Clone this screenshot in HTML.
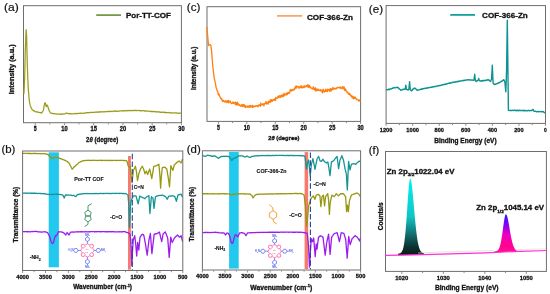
<!DOCTYPE html>
<html><head><meta charset="utf-8"><style>
html,body{margin:0;padding:0;background:#fff;}
svg{display:block;will-change:transform;}
text{font-family:"Liberation Sans", sans-serif;}
</style></head><body>
<svg width="550" height="294" viewBox="0 0 550 294">
<rect width="550" height="294" fill="#fff"/>
<rect x="23.50" y="5.70" width="157.90" height="117.00" fill="none" stroke="#6e6e6e" stroke-width="1.0"/><line x1="35.20" y1="123.20" x2="35.20" y2="125.20" stroke="#6e6e6e" stroke-width="0.8" /><line x1="64.44" y1="123.20" x2="64.44" y2="125.20" stroke="#6e6e6e" stroke-width="0.8" /><line x1="93.68" y1="123.20" x2="93.68" y2="125.20" stroke="#6e6e6e" stroke-width="0.8" /><line x1="122.92" y1="123.20" x2="122.92" y2="125.20" stroke="#6e6e6e" stroke-width="0.8" /><line x1="152.16" y1="123.20" x2="152.16" y2="125.20" stroke="#6e6e6e" stroke-width="0.8" /><line x1="181.40" y1="123.20" x2="181.40" y2="125.20" stroke="#6e6e6e" stroke-width="0.8" /><line x1="49.82" y1="123.20" x2="49.82" y2="124.40" stroke="#6e6e6e" stroke-width="0.8" /><line x1="79.06" y1="123.20" x2="79.06" y2="124.40" stroke="#6e6e6e" stroke-width="0.8" /><line x1="108.30" y1="123.20" x2="108.30" y2="124.40" stroke="#6e6e6e" stroke-width="0.8" /><line x1="137.54" y1="123.20" x2="137.54" y2="124.40" stroke="#6e6e6e" stroke-width="0.8" /><line x1="166.78" y1="123.20" x2="166.78" y2="124.40" stroke="#6e6e6e" stroke-width="0.8" /><text x="33.75" y="131.30" font-size="6.5" font-weight="bold" fill="#111" stroke="#111" stroke-width="0.3" textLength="2.91" lengthAdjust="spacingAndGlyphs" >5</text><text x="61.26" y="131.30" font-size="6.5" font-weight="bold" fill="#111" stroke="#111" stroke-width="0.3" textLength="6.36" lengthAdjust="spacingAndGlyphs" >10</text><text x="90.50" y="131.30" font-size="6.5" font-weight="bold" fill="#111" stroke="#111" stroke-width="0.3" textLength="6.36" lengthAdjust="spacingAndGlyphs" >15</text><text x="119.74" y="131.30" font-size="6.5" font-weight="bold" fill="#111" stroke="#111" stroke-width="0.3" textLength="6.36" lengthAdjust="spacingAndGlyphs" >20</text><text x="148.98" y="131.30" font-size="6.5" font-weight="bold" fill="#111" stroke="#111" stroke-width="0.3" textLength="6.36" lengthAdjust="spacingAndGlyphs" >25</text><text x="178.22" y="131.30" font-size="6.5" font-weight="bold" fill="#111" stroke="#111" stroke-width="0.3" textLength="6.36" lengthAdjust="spacingAndGlyphs" >30</text><polyline points="23.90,94.00 24.40,83.82 24.60,80.00 24.90,67.32 25.30,50.00 25.40,47.58 25.90,34.58 26.10,29.60 26.40,33.44 26.60,36.00 26.90,48.40 27.30,65.00 27.40,67.63 27.90,80.48 28.20,88.00 28.40,90.20 28.90,96.16 29.20,100.00 29.40,101.25 29.90,103.75 30.20,105.40 30.40,106.05 30.90,106.97 31.20,108.00 31.40,108.27 31.90,109.16 32.20,109.50 32.40,109.53 32.90,110.31 33.40,110.70 33.90,110.68 34.00,111.00 34.40,110.92 34.90,111.38 35.40,111.78 35.90,111.70 36.00,111.80 36.40,111.76 36.90,111.99 37.40,111.91 37.90,112.14 38.00,112.30 38.40,112.34 38.90,112.47 39.40,112.43 39.90,112.52 40.40,112.61 40.90,112.83 41.40,112.84 41.70,113.00 41.90,112.43 42.40,112.00 42.90,111.03 43.40,110.24 43.50,110.00 43.90,107.24 44.40,104.40 44.50,103.50 44.90,103.04 45.00,102.70 45.40,103.38 45.60,104.00 45.90,105.27 46.20,106.70 46.40,106.33 46.90,105.00 47.40,105.44 47.50,105.40 47.90,106.86 48.40,108.15 48.50,108.50 48.90,109.87 49.40,111.29 49.50,111.50 49.90,111.91 50.40,112.69 50.60,112.90 50.90,113.18 51.40,113.31 51.90,113.28 52.40,113.47 52.90,113.34 53.00,113.60 53.40,113.51 53.90,113.84 54.40,113.70 54.90,113.63 55.40,113.86 55.90,113.99 56.40,114.03 56.90,113.93 57.00,114.00 57.40,113.99 57.90,114.05 58.40,114.21 58.90,114.11 59.40,114.07 59.90,114.14 60.40,113.93 60.90,113.97 61.00,114.20 61.40,114.26 61.90,114.35 62.40,114.11 62.90,113.96 63.40,113.80 63.90,113.91 64.00,113.90 64.40,114.02 64.90,113.77 65.40,113.50 65.90,113.51 66.00,113.30 66.40,113.05 66.90,113.04 67.00,113.00 67.40,113.47 67.90,113.58 68.00,113.60 68.40,113.60 68.90,113.53 69.40,113.69 69.90,113.92 70.40,113.47 70.90,113.89 71.40,113.93 71.90,113.99 72.00,113.80 72.40,113.90 72.90,113.91 73.40,113.74 73.90,113.74 74.40,113.64 74.90,113.43 75.40,113.82 75.90,113.64 76.40,113.43 76.90,113.56 77.40,113.52 77.90,113.43 78.40,113.40 78.90,113.47 79.40,113.49 79.90,113.46 80.00,113.40 80.40,113.35 80.90,113.09 81.40,113.15 81.90,113.09 82.40,113.25 82.90,113.35 83.40,113.28 83.90,113.24 84.40,113.21 84.90,112.89 85.40,113.14 85.90,113.01 86.40,112.68 86.90,112.61 87.40,112.57 87.90,112.90 88.40,112.60 88.90,112.49 89.40,112.71 89.90,112.53 90.00,112.60 90.40,112.36 90.90,112.38 91.40,112.53 91.90,112.32 92.40,112.34 92.90,112.53 93.40,112.37 93.90,112.28 94.40,112.32 94.90,112.07 95.40,112.22 95.90,112.21 96.40,112.06 96.90,111.99 97.40,112.36 97.90,112.13 98.40,111.95 98.90,112.12 99.40,112.19 99.90,111.77 100.00,112.00 100.40,111.73 100.90,111.77 101.40,112.03 101.90,111.72 102.40,111.96 102.90,111.92 103.40,111.82 103.90,111.63 104.40,111.97 104.90,111.85 105.40,111.68 105.90,111.51 106.40,111.69 106.90,111.53 107.40,111.59 107.90,111.44 108.40,111.56 108.90,111.25 109.40,111.34 109.90,111.64 110.00,111.40 110.40,111.57 110.90,111.27 111.40,111.52 111.90,111.23 112.40,111.52 112.90,111.40 113.40,111.22 113.90,111.11 114.40,110.97 114.90,111.39 115.40,110.94 115.90,111.31 116.40,111.36 116.90,111.15 117.40,110.93 117.90,111.25 118.40,111.29 118.90,111.13 119.40,111.01 119.90,110.93 120.40,110.89 120.90,110.80 121.40,111.01 121.90,110.87 122.00,110.90 122.40,110.73 122.90,110.66 123.40,110.91 123.90,110.70 124.40,110.78 124.90,110.67 125.40,110.92 125.90,110.90 126.40,110.44 126.90,110.51 127.40,110.54 127.90,110.85 128.40,110.72 128.90,110.47 129.40,110.39 129.90,110.59 130.00,110.50 130.40,110.67 130.90,110.72 131.40,110.42 131.90,110.69 132.40,110.59 132.90,110.49 133.40,110.74 133.90,110.37 134.40,110.61 134.90,110.29 135.40,110.33 135.90,110.71 136.40,110.36 136.90,110.63 137.40,110.55 137.90,110.67 138.00,110.50 138.40,110.46 138.90,110.47 139.40,110.48 139.90,110.79 140.40,110.69 140.90,110.89 141.40,110.89 141.90,110.54 142.40,110.78 142.90,110.58 143.40,110.58 143.90,110.62 144.40,111.05 144.90,111.04 145.00,110.90 145.40,111.10 145.90,110.89 146.40,111.07 146.90,111.19 147.40,111.03 147.90,111.17 148.40,111.03 148.90,111.00 149.40,111.14 149.90,111.49 150.40,111.36 150.90,111.58 151.40,111.39 151.90,111.34 152.40,111.64 152.90,111.70 153.40,111.33 153.90,111.70 154.40,111.45 154.90,111.50 155.00,111.70 155.40,111.92 155.90,111.54 156.40,111.68 156.90,112.10 157.40,111.85 157.90,111.74 158.40,111.81 158.90,111.88 159.40,112.17 159.90,111.89 160.40,112.34 160.90,112.11 161.40,112.45 161.90,112.46 162.40,112.19 162.90,112.21 163.40,112.36 163.90,112.21 164.40,112.53 164.90,112.26 165.00,112.50 165.40,112.28 165.90,112.79 166.40,112.47 166.90,112.64 167.40,112.59 167.90,112.55 168.40,112.45 168.90,112.90 169.40,112.95 169.90,112.98 170.40,112.58 170.90,112.65 171.40,112.88 171.90,113.08 172.40,112.89 172.90,112.99 173.40,113.00 173.90,112.82 174.40,112.99 174.90,112.90 175.00,113.00 175.40,112.89 175.90,112.84 176.40,112.96 176.90,113.34 177.40,113.09 177.90,113.22 178.40,113.24 178.90,113.42 179.40,113.17 179.90,113.15 180.40,113.18 180.90,113.20 181.00,113.30" fill="none" stroke="#9c9c1c" stroke-width="1.25" stroke-linejoin="round" /><line x1="96.20" y1="15.10" x2="121.00" y2="15.10" stroke="#6f9440" stroke-width="1.7" /><text x="125.90" y="17.60" font-size="7.8" font-weight="bold" fill="#111" stroke="#111" stroke-width="0.3" textLength="45.00" lengthAdjust="spacingAndGlyphs" >Por-TT-COF</text><text x="0" y="0" font-size="6.9" font-weight="bold" fill="#111" stroke="#111" stroke-width="0.3" textLength="49.99" lengthAdjust="spacingAndGlyphs" transform="translate(14.00 94.20) rotate(-90)" >Intensity (a.u.)</text><text x="86.00" y="141.70" font-size="6.3" font-weight="bold" fill="#111" stroke="#111" stroke-width="0.3" textLength="32.29" lengthAdjust="spacingAndGlyphs"><tspan font-size="6.30" dy="0" >2</tspan><tspan font-size="6.30" dy="0" font-style="italic">θ</tspan><tspan font-size="6.30" dy="0" > (degree)</tspan></text><text x="4.00" y="11.40" font-size="11.4" font-weight="normal" fill="#111" stroke="#111" stroke-width="0.2" textLength="14.73" lengthAdjust="spacingAndGlyphs" >(a)</text><rect x="207.00" y="6.70" width="153.60" height="114.70" fill="none" stroke="#6e6e6e" stroke-width="1.0"/><line x1="218.38" y1="121.90" x2="218.38" y2="123.90" stroke="#6e6e6e" stroke-width="0.8" /><line x1="246.82" y1="121.90" x2="246.82" y2="123.90" stroke="#6e6e6e" stroke-width="0.8" /><line x1="275.27" y1="121.90" x2="275.27" y2="123.90" stroke="#6e6e6e" stroke-width="0.8" /><line x1="303.71" y1="121.90" x2="303.71" y2="123.90" stroke="#6e6e6e" stroke-width="0.8" /><line x1="332.16" y1="121.90" x2="332.16" y2="123.90" stroke="#6e6e6e" stroke-width="0.8" /><line x1="360.60" y1="121.90" x2="360.60" y2="123.90" stroke="#6e6e6e" stroke-width="0.8" /><line x1="232.60" y1="121.90" x2="232.60" y2="123.10" stroke="#6e6e6e" stroke-width="0.8" /><line x1="261.04" y1="121.90" x2="261.04" y2="123.10" stroke="#6e6e6e" stroke-width="0.8" /><line x1="289.49" y1="121.90" x2="289.49" y2="123.10" stroke="#6e6e6e" stroke-width="0.8" /><line x1="317.93" y1="121.90" x2="317.93" y2="123.10" stroke="#6e6e6e" stroke-width="0.8" /><line x1="346.38" y1="121.90" x2="346.38" y2="123.10" stroke="#6e6e6e" stroke-width="0.8" /><text x="216.95" y="129.70" font-size="6.4" font-weight="bold" fill="#111" stroke="#111" stroke-width="0.3" textLength="2.86" lengthAdjust="spacingAndGlyphs" >5</text><text x="243.70" y="129.70" font-size="6.4" font-weight="bold" fill="#111" stroke="#111" stroke-width="0.3" textLength="6.26" lengthAdjust="spacingAndGlyphs" >10</text><text x="272.14" y="129.70" font-size="6.4" font-weight="bold" fill="#111" stroke="#111" stroke-width="0.3" textLength="6.26" lengthAdjust="spacingAndGlyphs" >15</text><text x="300.59" y="129.70" font-size="6.4" font-weight="bold" fill="#111" stroke="#111" stroke-width="0.3" textLength="6.26" lengthAdjust="spacingAndGlyphs" >20</text><text x="329.03" y="129.70" font-size="6.4" font-weight="bold" fill="#111" stroke="#111" stroke-width="0.3" textLength="6.26" lengthAdjust="spacingAndGlyphs" >25</text><text x="357.48" y="129.70" font-size="6.4" font-weight="bold" fill="#111" stroke="#111" stroke-width="0.3" textLength="6.26" lengthAdjust="spacingAndGlyphs" >30</text><polyline points="206.90,27.10 207.25,30.99 207.60,34.89 207.70,36.00 207.95,38.97 208.30,43.13 208.50,45.50 208.65,45.38 209.00,45.09 209.35,44.80 209.60,44.60 209.70,44.63 210.05,44.72 210.40,44.82 210.70,44.90 210.75,45.22 211.10,47.43 211.45,49.65 211.60,50.60 211.80,53.45 212.15,58.44 212.40,62.00 212.50,63.00 212.85,66.50 213.20,70.00 213.55,72.80 213.90,75.60 214.20,77.81 214.25,78.62 214.60,79.68 214.95,81.24 215.30,82.40 215.65,84.56 216.00,87.17 216.10,87.12 216.35,88.41 216.70,89.00 217.05,90.28 217.40,91.29 217.75,91.07 218.10,94.14 218.40,94.88 218.45,94.95 218.80,93.85 219.15,94.35 219.50,95.53 219.85,96.38 220.20,97.50 220.55,97.77 220.90,98.74 221.00,98.02 221.25,98.98 221.60,99.40 221.95,98.95 222.30,101.09 222.65,100.57 223.00,101.40 223.35,100.38 223.70,100.65 223.80,101.04 224.05,101.25 224.40,101.85 224.75,101.61 225.10,101.13 225.45,100.80 225.80,101.17 226.15,102.52 226.50,101.05 226.85,101.88 227.20,102.07 227.55,100.67 227.90,101.87 228.25,102.86 228.60,100.42 228.95,101.73 229.30,101.94 229.65,101.45 229.90,102.47 230.00,102.08 230.35,101.13 230.70,102.94 231.05,102.92 231.40,103.22 231.75,103.69 232.10,102.98 232.45,102.89 232.80,101.92 233.15,103.46 233.50,102.63 233.85,102.85 234.20,102.34 234.55,102.65 234.90,103.08 235.25,104.54 235.60,102.15 235.95,102.67 236.30,104.04 236.65,105.04 236.80,104.43 237.00,102.63 237.35,102.27 237.70,104.53 238.05,103.80 238.40,103.62 238.75,105.29 239.10,105.48 239.45,104.88 239.80,105.04 240.15,105.28 240.50,106.25 240.85,105.62 241.20,105.65 241.55,105.77 241.90,104.28 242.25,106.52 242.60,106.37 242.95,106.15 243.30,104.38 243.65,105.48 244.00,106.69 244.35,104.80 244.70,106.12 245.05,107.12 245.20,105.42 245.40,107.61 245.75,106.81 246.10,106.29 246.45,106.64 246.80,106.89 247.15,106.49 247.50,107.26 247.85,105.90 248.20,106.09 248.55,107.18 248.90,106.42 249.25,105.74 249.60,107.11 249.95,107.50 250.30,106.07 250.65,105.37 251.00,106.30 251.35,106.29 251.70,106.18 252.05,107.45 252.40,105.63 252.75,107.35 252.80,105.45 253.10,105.75 253.45,106.75 253.80,107.05 254.15,106.78 254.50,106.33 254.85,106.11 255.20,106.05 255.55,106.30 255.90,105.66 256.25,105.94 256.60,106.09 256.95,105.59 257.30,106.10 257.65,105.88 258.00,106.89 258.35,105.56 258.70,104.93 259.05,104.90 259.40,105.10 259.75,105.74 260.10,104.73 260.45,105.20 260.50,106.28 260.80,102.90 261.15,103.89 261.50,104.82 261.85,104.84 262.20,104.63 262.55,104.04 262.90,104.76 263.25,104.39 263.60,103.69 263.95,105.81 264.30,104.17 264.65,103.39 265.00,103.64 265.35,103.45 265.70,103.48 266.05,101.39 266.40,102.98 266.75,104.01 267.10,102.29 267.45,103.02 267.80,103.69 268.10,103.54 268.15,103.99 268.50,101.38 268.85,102.18 269.20,101.98 269.55,102.49 269.90,102.63 270.25,99.59 270.60,102.20 270.95,100.09 271.30,101.48 271.65,99.63 272.00,100.67 272.35,101.22 272.70,100.00 273.05,100.05 273.40,100.29 273.75,99.59 274.10,99.20 274.45,100.21 274.80,99.63 275.15,98.41 275.50,100.48 275.70,97.44 275.85,98.93 276.20,97.90 276.55,98.06 276.90,98.35 277.25,97.84 277.60,98.01 277.95,96.25 278.30,96.12 278.65,97.57 279.00,96.25 279.35,96.06 279.70,95.59 280.05,97.50 280.40,96.97 280.75,97.37 281.10,95.42 281.45,95.99 281.80,94.99 282.15,96.28 282.50,96.75 282.85,94.75 283.20,96.45 283.40,95.94 283.55,94.99 283.90,93.48 284.25,95.84 284.60,94.54 284.95,93.99 285.30,94.57 285.65,94.40 286.00,95.04 286.35,92.98 286.70,94.43 287.05,94.52 287.40,94.32 287.75,92.93 288.10,92.33 288.45,93.48 288.80,92.63 289.15,92.47 289.50,93.27 289.85,91.65 290.20,89.78 290.55,90.86 290.90,89.41 291.10,91.21 291.25,90.74 291.60,89.83 291.95,90.06 292.30,90.48 292.65,89.69 293.00,90.41 293.35,89.15 293.70,89.76 294.05,89.88 294.40,89.75 294.75,87.82 295.10,88.77 295.45,86.48 295.80,86.86 296.15,85.98 296.50,88.04 296.85,86.09 297.20,86.79 297.55,86.67 297.90,86.81 298.25,86.41 298.60,87.04 298.95,88.23 299.30,86.94 299.65,87.32 300.00,87.69 300.35,86.81 300.70,86.03 301.05,86.57 301.40,87.81 301.75,85.79 302.10,86.59 302.45,87.81 302.80,87.67 303.15,87.10 303.30,87.70 303.50,87.20 303.85,86.14 304.20,85.81 304.55,86.46 304.90,87.58 305.25,86.42 305.60,86.12 305.95,86.18 306.30,85.56 306.65,86.58 307.00,85.73 307.35,86.84 307.70,84.76 307.90,86.75 308.05,86.07 308.40,85.21 308.75,87.33 309.10,86.70 309.45,85.35 309.80,86.49 310.15,87.48 310.50,87.03 310.85,88.08 311.20,88.17 311.55,88.23 311.90,88.10 312.25,88.97 312.60,88.58 312.95,88.54 313.30,86.76 313.65,89.11 314.00,89.54 314.35,88.46 314.70,88.44 315.05,90.37 315.40,87.71 315.60,89.45 315.75,90.96 316.10,88.54 316.45,89.84 316.80,90.83 317.15,89.42 317.50,90.02 317.85,90.37 318.20,89.10 318.55,89.81 318.90,90.19 319.25,90.68 319.60,90.13 319.95,90.10 320.30,89.57 320.65,90.16 321.00,91.19 321.35,90.69 321.70,90.07 322.05,90.17 322.40,92.89 322.75,91.84 323.10,91.55 323.20,89.16 323.45,91.52 323.80,91.34 324.15,92.18 324.50,91.17 324.85,90.73 325.20,91.10 325.55,89.18 325.90,91.35 326.25,90.75 326.60,89.91 326.95,91.36 327.30,91.66 327.65,89.18 328.00,89.67 328.35,90.32 328.70,90.17 329.05,89.66 329.40,89.16 329.75,91.41 330.10,90.53 330.45,88.79 330.80,88.61 330.90,90.88 331.15,90.28 331.50,90.81 331.85,89.96 332.20,88.60 332.55,89.36 332.90,87.45 333.25,88.42 333.60,88.85 333.95,89.19 334.30,88.16 334.65,88.52 335.00,88.86 335.35,88.71 335.70,88.82 336.05,88.40 336.40,87.91 336.75,88.65 337.10,88.01 337.45,87.26 337.80,87.31 338.15,87.69 338.50,87.52 338.85,87.75 339.20,87.66 339.55,87.82 339.90,87.62 340.25,86.81 340.60,88.10 340.95,88.60 341.30,88.17 341.65,87.73 342.00,88.24 342.35,87.21 342.70,86.54 343.05,88.04 343.10,87.30 343.40,88.81 343.75,87.73 344.10,86.87 344.45,88.35 344.80,90.61 345.15,89.43 345.50,88.99 345.85,89.73 346.20,90.99 346.55,91.33 346.90,91.45 347.25,92.79 347.60,92.56 347.95,92.37 348.30,93.19 348.65,94.35 349.00,94.19 349.35,94.59 349.70,93.37 350.05,94.42 350.40,95.44 350.70,94.98 350.75,96.03 351.10,95.89 351.45,96.34 351.80,95.71 352.15,98.00 352.50,97.23 352.85,96.36 353.20,96.80 353.55,98.89 353.90,96.90 354.25,98.03 354.60,98.33 354.95,97.81 355.30,97.14 355.65,98.37 356.00,98.72 356.35,99.51 356.70,99.46 356.90,99.02 357.05,99.75 357.40,99.78 357.75,99.79 358.10,99.93 358.45,99.97 358.80,100.92 359.15,99.88 359.50,100.46 359.85,101.19 360.00,100.20" fill="none" stroke="#ff8010" stroke-width="1.3" stroke-linejoin="round" /><line x1="277.00" y1="15.90" x2="302.30" y2="15.90" stroke="#ffa060" stroke-width="1.7" /><text x="307.00" y="19.50" font-size="7.8" font-weight="bold" fill="#111" stroke="#111" stroke-width="0.3" textLength="46.02" lengthAdjust="spacingAndGlyphs" >COF-366-Zn</text><text x="0" y="0" font-size="6.3" font-weight="bold" fill="#111" stroke="#111" stroke-width="0.3" textLength="43.49" lengthAdjust="spacingAndGlyphs" transform="translate(195.50 90.00) rotate(-90)" >Intensity (a.u.)</text><text x="268.20" y="140.40" font-size="6.0" font-weight="bold" fill="#111" stroke="#111" stroke-width="0.3" textLength="31.19" lengthAdjust="spacingAndGlyphs"><tspan font-size="6.00" dy="0" >2</tspan><tspan font-size="6.00" dy="0" font-style="italic">θ</tspan><tspan font-size="6.00" dy="0" > (degree)</tspan></text><text x="186.80" y="11.20" font-size="11.4" font-weight="normal" fill="#111" stroke="#111" stroke-width="0.2" textLength="13.61" lengthAdjust="spacingAndGlyphs" >(c)</text><rect x="386.10" y="5.60" width="159.40" height="117.80" fill="none" stroke="#6e6e6e" stroke-width="1.0"/><line x1="545.50" y1="123.90" x2="545.50" y2="125.90" stroke="#6e6e6e" stroke-width="0.8" /><line x1="518.93" y1="123.90" x2="518.93" y2="125.90" stroke="#6e6e6e" stroke-width="0.8" /><line x1="492.37" y1="123.90" x2="492.37" y2="125.90" stroke="#6e6e6e" stroke-width="0.8" /><line x1="465.80" y1="123.90" x2="465.80" y2="125.90" stroke="#6e6e6e" stroke-width="0.8" /><line x1="439.23" y1="123.90" x2="439.23" y2="125.90" stroke="#6e6e6e" stroke-width="0.8" /><line x1="412.67" y1="123.90" x2="412.67" y2="125.90" stroke="#6e6e6e" stroke-width="0.8" /><line x1="386.10" y1="123.90" x2="386.10" y2="125.90" stroke="#6e6e6e" stroke-width="0.8" /><line x1="532.22" y1="123.90" x2="532.22" y2="125.10" stroke="#6e6e6e" stroke-width="0.8" /><line x1="505.65" y1="123.90" x2="505.65" y2="125.10" stroke="#6e6e6e" stroke-width="0.8" /><line x1="479.08" y1="123.90" x2="479.08" y2="125.10" stroke="#6e6e6e" stroke-width="0.8" /><line x1="452.52" y1="123.90" x2="452.52" y2="125.10" stroke="#6e6e6e" stroke-width="0.8" /><line x1="425.95" y1="123.90" x2="425.95" y2="125.10" stroke="#6e6e6e" stroke-width="0.8" /><line x1="399.38" y1="123.90" x2="399.38" y2="125.10" stroke="#6e6e6e" stroke-width="0.8" /><text x="544.12" y="131.90" font-size="6.0" font-weight="bold" fill="#111" stroke="#111" stroke-width="0.3" textLength="2.76" lengthAdjust="spacingAndGlyphs" >0</text><text x="514.26" y="131.90" font-size="6.0" font-weight="bold" fill="#111" stroke="#111" stroke-width="0.3" textLength="9.34" lengthAdjust="spacingAndGlyphs" >200</text><text x="487.69" y="131.90" font-size="6.0" font-weight="bold" fill="#111" stroke="#111" stroke-width="0.3" textLength="9.34" lengthAdjust="spacingAndGlyphs" >400</text><text x="461.12" y="131.90" font-size="6.0" font-weight="bold" fill="#111" stroke="#111" stroke-width="0.3" textLength="9.34" lengthAdjust="spacingAndGlyphs" >600</text><text x="434.56" y="131.90" font-size="6.0" font-weight="bold" fill="#111" stroke="#111" stroke-width="0.3" textLength="9.34" lengthAdjust="spacingAndGlyphs" >800</text><text x="406.34" y="131.90" font-size="6.0" font-weight="bold" fill="#111" stroke="#111" stroke-width="0.3" textLength="12.65" lengthAdjust="spacingAndGlyphs" >1000</text><text x="379.78" y="131.90" font-size="6.0" font-weight="bold" fill="#111" stroke="#111" stroke-width="0.3" textLength="12.65" lengthAdjust="spacingAndGlyphs" >1200</text><polyline points="386.30,90.00 386.60,89.80 386.90,89.89 387.20,89.73 387.50,89.78 387.80,89.72 388.10,89.38 388.40,89.28 388.70,89.63 389.00,89.27 389.30,89.19 389.40,89.30 389.60,89.48 389.90,89.11 390.20,89.20 390.50,88.91 390.80,88.89 391.10,88.54 391.40,88.68 391.70,88.70 392.00,88.42 392.30,88.43 392.60,88.29 392.90,87.89 393.20,88.13 393.50,87.90 393.80,87.89 394.10,87.70 394.40,87.51 394.70,87.88 395.00,87.63 395.30,87.70 395.60,87.73 395.90,87.60 396.20,87.65 396.50,87.34 396.80,87.49 397.10,87.26 397.40,87.45 397.60,87.20 397.70,87.49 398.00,87.40 398.30,87.72 398.60,88.06 398.90,88.73 399.00,88.60 399.20,88.73 399.50,89.06 399.80,89.14 400.10,89.48 400.40,89.66 400.70,89.89 401.00,90.20 401.30,90.11 401.60,89.98 401.90,90.02 402.20,89.78 402.50,89.77 402.80,89.61 403.10,89.30 403.40,89.50 403.70,89.30 404.00,89.00 404.30,89.31 404.60,89.32 404.90,89.25 405.20,89.00 405.50,87.13 405.80,85.20 406.10,87.06 406.40,88.57 406.50,89.30 406.70,89.57 407.00,89.61 407.30,89.62 407.60,89.67 407.80,90.00 407.90,90.09 408.20,89.88 408.50,89.16 408.80,89.24 408.90,89.00 409.10,86.90 409.40,83.68 409.60,81.80 409.70,82.87 410.00,86.62 410.30,90.00 410.60,90.32 410.90,90.03 411.20,90.45 411.50,90.30 411.80,90.77 411.90,90.70 412.10,90.32 412.40,90.14 412.70,89.74 413.00,89.05 413.30,88.60 413.60,88.80 413.90,88.41 414.20,88.25 414.50,88.47 414.80,88.14 415.10,88.18 415.30,88.30 415.40,88.37 415.70,88.84 416.00,88.97 416.30,89.50 416.60,89.46 416.90,90.07 417.20,89.98 417.40,90.20 417.50,90.40 417.80,90.29 418.10,89.95 418.40,89.90 418.70,89.85 419.00,89.83 419.30,89.72 419.60,89.62 419.90,89.57 420.20,89.65 420.50,89.35 420.80,89.23 421.10,89.29 421.40,88.96 421.70,88.91 422.00,89.17 422.10,88.90 422.30,88.88 422.60,88.84 422.90,88.51 423.20,88.66 423.50,88.69 423.80,88.36 424.10,88.60 424.40,88.56 424.70,88.22 425.00,88.45 425.30,88.32 425.60,88.37 425.90,88.15 426.20,88.28 426.50,88.24 426.80,87.83 427.10,87.79 427.40,88.05 427.70,88.14 428.00,87.73 428.30,87.78 428.60,87.80 428.90,87.61 429.20,87.57 429.50,87.50 429.80,87.47 430.10,87.53 430.40,87.33 430.70,87.32 431.00,87.46 431.30,87.03 431.60,87.25 431.70,87.20 431.90,87.28 432.20,87.00 432.50,86.89 432.80,87.12 433.10,86.77 433.40,86.69 433.70,86.75 434.00,86.81 434.30,86.45 434.60,86.50 434.90,86.44 435.20,86.63 435.50,86.37 435.80,86.51 436.10,86.11 436.40,86.13 436.70,86.22 437.00,86.28 437.30,86.00 437.60,85.82 437.90,85.71 438.20,85.85 438.50,85.61 438.80,85.86 439.10,85.81 439.40,85.42 439.70,85.41 440.00,85.61 440.30,85.46 440.60,85.48 440.90,85.19 441.20,85.20 441.50,84.94 441.80,84.95 442.10,85.12 442.40,84.79 442.70,84.75 443.00,84.71 443.30,84.64 443.60,84.56 443.90,84.74 444.20,84.28 444.50,84.13 444.80,84.53 445.10,84.42 445.40,84.40 445.70,84.05 446.00,84.24 446.30,84.15 446.60,83.72 446.90,83.91 447.20,83.88 447.50,83.72 447.80,83.57 448.10,83.39 448.40,83.34 448.70,83.21 449.00,83.05 449.30,83.24 449.60,83.01 449.90,83.20 450.20,82.74 450.50,83.10 450.80,82.92 451.10,82.96 451.40,82.87 451.70,82.80 452.00,82.56 452.10,82.50 452.30,82.22 452.60,82.53 452.90,82.19 453.20,82.21 453.50,82.33 453.80,82.21 454.10,82.10 454.40,82.31 454.70,82.10 455.00,81.91 455.30,81.81 455.60,82.06 455.90,81.82 456.20,81.91 456.50,81.65 456.80,81.52 457.10,81.63 457.40,81.72 457.70,81.34 458.00,81.60 458.30,81.61 458.60,81.50 458.90,81.46 459.20,81.00 459.50,81.25 459.80,81.32 460.00,81.10 460.10,80.86 460.40,80.92 460.70,80.87 461.00,80.95 461.30,80.85 461.60,80.83 461.90,80.93 462.20,80.50 462.50,80.48 462.80,80.46 463.10,80.41 463.40,80.34 463.70,80.74 464.00,80.64 464.30,80.20 464.60,80.36 464.90,80.22 465.20,80.17 465.50,80.14 465.80,80.24 466.10,80.16 466.40,80.00 466.70,79.87 467.00,79.89 467.30,79.74 467.60,79.91 467.90,79.94 468.10,79.80 468.20,79.75 468.50,79.62 468.80,79.69 469.10,79.80 469.40,79.94 469.70,80.05 470.00,79.87 470.30,80.10 470.60,80.03 470.90,79.96 471.20,79.95 471.50,80.03 471.80,80.15 472.10,80.03 472.40,80.19 472.70,80.09 473.00,80.00 473.30,80.17 473.60,80.27 473.90,79.98 474.00,80.20 474.20,78.48 474.50,75.95 474.70,74.30 474.80,75.38 475.10,78.06 475.40,80.50 475.70,80.77 476.00,81.37 476.30,81.50 476.60,81.41 476.90,80.91 477.20,80.77 477.50,80.36 477.80,80.47 478.10,80.16 478.20,80.00 478.40,79.55 478.70,78.40 479.00,79.60 479.30,80.50 479.60,80.75 479.90,80.94 480.20,81.02 480.40,81.10 480.50,80.89 480.80,81.08 481.10,80.75 481.40,80.77 481.70,81.04 482.00,80.63 482.30,80.61 482.60,80.57 482.90,80.92 483.20,80.52 483.50,80.40 483.80,80.76 484.10,80.36 484.40,80.50 484.70,80.62 485.00,80.48 485.30,80.51 485.60,80.52 485.90,80.28 486.20,80.34 486.50,79.91 486.80,80.22 487.10,80.04 487.40,80.10 487.70,79.74 488.00,80.01 488.30,80.05 488.50,79.80 488.60,79.67 488.90,80.05 489.20,80.43 489.50,80.81 489.80,80.78 490.10,81.00 490.40,81.29 490.50,81.50 490.70,81.10 491.00,80.49 491.30,79.63 491.60,79.00 491.90,73.06 492.20,67.21 492.30,65.30 492.50,69.79 492.80,76.68 492.90,79.00 493.10,81.79 493.20,83.50 493.40,83.64 493.70,84.09 494.00,84.03 494.30,84.41 494.60,84.50 494.90,84.21 495.20,84.36 495.50,84.28 495.80,84.12 496.10,83.92 496.40,83.79 496.70,83.75 497.00,83.76 497.30,83.27 497.60,83.12 497.90,83.33 498.20,83.30 498.50,82.98 498.80,82.82 499.10,82.84 499.40,82.46 499.70,82.50 500.00,82.19 500.30,81.95 500.60,81.95 500.90,81.62 501.20,81.38 501.50,81.41 501.80,81.34 502.10,80.82 502.40,80.82 502.70,80.48 503.00,80.50 503.30,80.17 503.60,79.82 503.80,79.80 503.90,79.83 504.20,80.24 504.50,80.98 504.80,81.50 505.10,84.50 505.40,87.46 505.70,90.61 505.80,91.70 506.00,86.19 506.30,78.27 506.60,70.00 506.90,48.48 507.20,27.56 507.30,20.20 507.50,36.11 507.80,60.00 508.10,85.20 508.40,110.30 508.70,110.29 509.00,110.48 509.30,110.49 509.60,110.36 509.90,110.33 510.20,110.46 510.50,110.54 510.80,110.32 511.10,110.49 511.40,110.61 511.70,110.38 512.00,110.40 512.30,110.27 512.60,110.27 512.90,110.52 513.20,110.50 513.50,110.65 513.80,110.60 514.10,110.30 514.40,110.27 514.70,110.31 515.00,110.28 515.30,110.54 515.60,110.62 515.90,110.65 516.20,110.33 516.50,110.64 516.80,110.37 517.10,110.43 517.40,110.58 517.70,110.26 518.00,110.27 518.30,110.65 518.60,110.38 518.90,110.41 519.20,110.53 519.50,110.58 519.80,110.25 520.00,110.50 520.10,110.42 520.40,110.47 520.70,110.50 521.00,110.37 521.30,110.56 521.60,110.75 521.90,110.47 522.20,110.55 522.50,110.34 522.80,110.42 523.10,110.62 523.40,110.35 523.70,110.74 524.00,110.75 524.30,110.35 524.60,110.78 524.90,110.50 525.20,110.70 525.50,110.70 525.80,110.47 526.10,110.66 526.40,110.66 526.70,110.74 527.00,110.47 527.30,110.72 527.60,110.83 527.90,110.69 528.00,110.60 528.20,110.62 528.50,110.41 528.80,110.60 529.10,110.53 529.40,110.71 529.70,110.69 530.00,110.63 530.30,110.44 530.60,110.67 530.90,110.67 531.20,110.44 531.50,110.60 531.80,110.54 532.10,110.16 532.40,109.64 532.70,109.79 532.90,109.40 533.00,109.38 533.30,109.97 533.60,110.66 533.90,111.09 534.00,111.20 534.20,111.27 534.50,111.37 534.80,111.34 535.10,111.33 535.40,111.32 535.70,111.32 536.00,111.60 536.30,111.71 536.60,111.74 536.90,111.63 537.20,111.74 537.50,111.55 537.80,111.51 538.10,111.57 538.40,111.82 538.70,111.41 539.00,111.65 539.30,111.52 539.60,111.79 539.90,111.58 540.20,111.58 540.50,111.62 540.80,111.69 541.10,111.81 541.40,111.60 541.70,111.85 542.00,111.49 542.30,111.58 542.60,111.49 542.90,111.50 543.00,111.70 543.20,111.96 543.50,112.12 543.80,112.03 544.10,112.22 544.40,112.51 544.70,112.86 544.80,112.80" fill="none" stroke="#0e9292" stroke-width="1.4" stroke-linejoin="round" /><line x1="450.20" y1="14.90" x2="475.00" y2="14.90" stroke="#14a0a0" stroke-width="1.8" /><text x="482.10" y="17.60" font-size="7.8" font-weight="bold" fill="#111" stroke="#111" stroke-width="0.3" textLength="45.62" lengthAdjust="spacingAndGlyphs" >COF-366-Zn</text><text x="434.20" y="142.70" font-size="6.7" font-weight="bold" fill="#111" stroke="#111" stroke-width="0.3" textLength="62.41" lengthAdjust="spacingAndGlyphs" >Binding Energy (eV)</text><text x="368.80" y="12.70" font-size="11.4" font-weight="normal" fill="#111" stroke="#111" stroke-width="0.2" textLength="14.23" lengthAdjust="spacingAndGlyphs" >(e)</text><rect x="48.7" y="152.3" width="10.2" height="115.0" fill="#22c8ee"/><rect x="128.0" y="156.0" width="2.9" height="113.6" fill="#f77a6e"/><polyline points="22.60,153.30 23.10,153.30 23.60,153.34 24.10,153.47 24.60,153.34 25.10,153.37 25.60,153.41 26.10,153.30 26.60,153.41 27.10,153.46 27.60,153.52 28.10,153.33 28.60,153.40 29.10,153.35 29.60,153.58 30.00,153.50 30.10,153.56 30.60,153.37 31.10,153.66 31.60,153.66 32.10,153.57 32.60,153.56 33.10,153.43 33.60,153.39 34.10,153.55 34.60,153.41 35.10,153.46 35.60,153.48 36.10,153.42 36.60,153.56 37.10,153.55 37.60,153.68 38.10,153.59 38.60,153.63 39.10,153.59 39.60,153.64 40.00,153.60 40.10,153.59 40.60,153.55 41.10,153.77 41.60,153.78 42.10,153.74 42.60,153.71 43.10,153.61 43.60,153.59 44.10,153.62 44.60,153.56 45.00,153.70 45.10,153.81 45.60,153.83 46.10,154.10 46.60,154.09 47.10,154.40 47.60,154.50 48.00,154.50 48.10,154.48 48.60,155.16 49.10,156.00 49.60,156.49 50.00,157.00 50.10,157.22 50.60,157.45 51.10,157.75 51.60,158.32 52.00,158.60 52.10,158.63 52.60,158.20 53.10,157.87 53.60,157.67 54.00,157.50 54.10,157.63 54.60,157.52 55.10,157.28 55.60,157.26 56.00,157.30 56.10,157.20 56.60,157.29 57.10,157.61 57.60,157.52 58.00,157.70 58.10,157.76 58.60,157.92 59.10,158.05 59.60,158.41 60.00,158.50 60.10,158.42 60.60,158.74 61.10,158.75 61.60,159.01 62.10,159.11 62.60,159.30 63.00,159.50 63.10,159.69 63.60,159.86 64.10,159.94 64.60,160.34 65.10,160.36 65.60,160.64 66.10,161.00 66.60,161.16 67.00,161.30 67.10,161.27 67.60,161.96 68.10,162.15 68.60,162.59 69.00,163.00 69.10,163.28 69.60,164.15 70.10,165.14 70.50,166.00 70.60,166.06 71.10,167.01 71.60,168.10 72.10,168.93 72.20,169.20 72.60,168.74 73.10,168.06 73.60,167.47 74.00,167.00 74.10,167.05 74.60,166.49 75.10,166.09 75.60,165.76 76.10,165.13 76.60,164.80 77.10,164.22 77.60,163.96 78.10,163.46 78.60,162.81 79.00,162.50 79.10,162.36 79.60,162.27 80.10,162.08 80.60,161.61 81.10,161.59 81.60,161.31 82.00,161.00 82.10,161.01 82.60,160.87 83.10,160.69 83.60,160.59 84.10,160.78 84.60,160.48 85.10,160.53 85.50,160.40 85.60,160.33 86.10,160.50 86.60,160.43 87.10,160.34 87.60,160.30 88.10,160.47 88.60,160.27 89.10,160.32 89.60,160.42 90.10,160.51 90.60,160.43 91.10,160.33 91.60,160.53 92.10,160.31 92.60,160.25 93.10,160.33 93.60,160.38 94.10,160.27 94.60,160.30 95.10,160.36 95.60,160.42 96.10,160.29 96.60,160.36 97.10,160.52 97.60,160.54 98.10,160.45 98.60,160.46 99.10,160.43 99.60,160.29 100.00,160.40 100.10,160.26 100.60,160.26 101.10,160.52 101.60,160.46 102.10,160.54 102.60,160.26 103.10,160.44 103.60,160.39 104.10,160.47 104.60,160.35 105.10,160.55 105.60,160.27 106.10,160.41 106.60,160.47 107.10,160.52 107.60,160.47 108.10,160.46 108.60,160.49 109.10,160.52 109.60,160.36 110.00,160.40 110.10,160.46 110.60,160.52 111.10,160.51 111.60,160.38 112.10,160.49 112.60,160.51 113.10,160.42 113.60,160.44 114.10,160.36 114.60,160.42 115.10,160.43 115.60,160.27 116.10,160.44 116.60,160.55 117.10,160.51 117.60,160.47 118.10,160.37 118.60,160.47 119.10,160.42 119.60,160.38 120.00,160.40 120.10,160.50 120.60,160.29 121.10,160.50 121.60,160.29 122.10,160.47 122.60,160.45 123.10,160.38 123.60,160.53 124.10,160.48 124.60,160.53 125.00,160.50 125.10,160.65 125.60,160.58 126.10,160.63 126.60,160.84 127.00,161.00 127.10,161.50 127.60,163.61 128.00,165.50 128.10,165.52 128.60,166.31 129.10,166.82 129.30,167.00 129.60,166.68 130.10,166.32 130.30,166.00 130.60,169.28 131.10,174.94 131.20,176.00 131.60,179.26 132.00,182.70 132.10,181.84 132.60,177.77 132.80,176.00 133.10,173.32 133.40,170.40 133.60,170.10 134.10,168.93 134.60,167.96 135.10,166.86 135.40,166.30 135.60,167.23 136.10,169.93 136.50,172.00 136.60,172.96 137.10,177.26 137.50,180.60 137.60,180.14 138.10,177.60 138.60,174.78 138.80,173.80 139.10,172.85 139.60,171.53 140.10,170.06 140.50,169.00 140.60,168.76 141.10,168.07 141.60,167.39 142.10,166.60 142.30,166.30 142.60,166.87 143.10,168.06 143.60,169.00 144.10,170.86 144.60,172.41 145.00,173.80 145.10,173.46 145.60,172.41 146.10,171.63 146.30,171.10 146.60,171.69 147.10,173.11 147.60,174.28 147.70,174.50 148.10,173.34 148.60,172.11 149.10,170.51 149.60,169.17 149.70,169.00 150.10,170.82 150.60,172.97 151.10,175.50 151.60,177.61 151.80,178.60 152.10,176.65 152.60,173.54 153.10,170.64 153.60,167.51 153.80,166.30 154.10,166.27 154.60,166.17 155.10,166.10 155.60,166.04 156.10,165.84 156.50,165.70 156.60,165.55 157.10,165.34 157.60,164.96 158.10,164.62 158.60,164.47 158.90,164.30 159.10,166.52 159.60,171.75 159.80,174.00 160.10,179.22 160.60,188.10 161.10,180.49 161.40,176.00 161.60,174.21 162.10,169.55 162.30,167.70 162.60,167.65 163.10,167.54 163.60,167.29 164.10,167.26 164.60,167.15 164.70,167.00 165.10,167.26 165.60,167.99 166.10,168.40 166.60,168.70 166.80,169.00 167.10,170.79 167.60,173.84 168.10,176.92 168.30,178.00 168.60,180.16 169.10,183.89 169.50,186.80 169.60,185.37 170.10,177.63 170.20,176.00 170.60,169.27 170.80,165.70 171.10,166.36 171.60,167.54 172.10,168.52 172.60,169.80 172.90,170.40 173.10,169.66 173.60,167.53 174.10,165.48 174.20,165.00 174.60,164.53 175.10,164.25 175.60,163.79 176.10,163.31 176.60,162.70 177.00,162.30 177.10,162.32 177.60,161.83 178.10,161.65 178.60,161.29 179.00,160.90 179.10,160.95 179.60,161.35 180.10,161.93 180.60,162.44 181.10,162.90 181.60,161.68 182.10,160.30 182.60,159.00" fill="none" stroke="#979712" stroke-width="1.3" stroke-linejoin="round" /><polyline points="22.60,193.10 23.10,193.10 23.60,193.16 24.10,193.17 24.60,193.03 25.10,192.99 25.60,193.11 26.10,193.09 26.60,193.26 27.10,193.23 27.60,193.21 28.10,193.21 28.60,193.25 29.10,193.10 29.60,193.19 30.10,193.12 30.60,193.35 31.10,193.10 31.60,193.34 32.10,193.13 32.60,193.32 33.10,193.22 33.60,193.25 34.10,193.39 34.60,193.15 35.00,193.30 35.10,193.17 35.60,193.45 36.10,193.36 36.60,193.26 37.10,193.55 37.60,193.56 38.10,193.34 38.60,193.46 39.10,193.40 39.60,193.47 40.10,193.59 40.60,193.48 41.10,193.66 41.60,193.50 42.10,193.56 42.60,193.77 43.10,193.68 43.60,193.71 44.10,193.78 44.60,193.77 45.00,193.80 45.10,193.78 45.60,193.77 46.10,194.07 46.60,194.23 47.10,194.32 47.60,194.32 48.10,194.32 48.30,194.40 48.60,194.37 49.10,194.48 49.60,194.49 50.10,194.33 50.60,194.38 51.10,194.43 51.60,194.49 52.00,194.50 52.10,194.59 52.60,194.46 53.10,194.28 53.60,194.48 54.10,194.32 54.60,194.31 55.10,194.18 55.60,194.21 56.00,194.20 56.10,194.17 56.60,194.33 57.10,194.16 57.60,194.33 58.10,194.26 58.60,194.45 59.10,194.29 59.60,194.40 60.00,194.50 60.10,194.48 60.60,194.68 61.10,194.62 61.60,194.86 62.10,194.90 62.60,195.04 63.00,195.20 63.10,195.43 63.60,196.74 64.10,197.76 64.20,198.00 64.60,197.21 65.10,195.82 65.50,195.00 65.60,195.13 66.10,194.99 66.60,194.96 67.10,195.15 67.60,195.22 68.10,194.97 68.60,195.07 69.10,195.24 69.60,195.13 70.00,195.20 70.10,195.13 70.60,195.10 71.10,195.14 71.60,195.36 72.10,195.50 72.60,195.54 73.10,195.43 73.60,195.33 74.00,195.50 74.10,195.51 74.60,195.99 75.10,196.33 75.60,196.61 75.80,196.70 76.10,196.23 76.60,195.67 77.10,195.01 77.50,194.50 77.60,194.53 78.10,194.36 78.60,194.50 79.10,194.43 79.60,194.15 80.10,194.13 80.60,194.24 81.10,194.00 81.60,194.14 82.10,193.95 82.60,193.95 83.10,193.89 83.60,193.68 84.10,193.64 84.60,193.57 85.00,193.60 85.10,193.65 85.60,193.65 86.10,193.48 86.60,193.71 87.10,193.56 87.60,193.51 88.10,193.56 88.60,193.72 89.10,193.59 89.60,193.61 90.10,193.69 90.60,193.70 91.10,193.64 91.60,193.53 92.10,193.58 92.60,193.67 93.10,193.63 93.60,193.57 94.10,193.49 94.60,193.50 95.10,193.60 95.60,193.55 96.10,193.38 96.60,193.59 97.10,193.64 97.60,193.61 98.10,193.63 98.60,193.63 99.10,193.52 99.60,193.59 100.00,193.50 100.10,193.46 100.60,193.38 101.10,193.45 101.60,193.44 102.10,193.62 102.60,193.54 103.10,193.50 103.60,193.52 104.10,193.37 104.60,193.49 105.10,193.53 105.60,193.44 106.10,193.39 106.60,193.44 107.10,193.41 107.60,193.52 108.10,193.35 108.60,193.33 109.10,193.40 109.60,193.51 110.10,193.53 110.60,193.49 111.10,193.57 111.60,193.40 112.10,193.30 112.60,193.43 113.10,193.42 113.60,193.34 114.10,193.48 114.60,193.38 115.10,193.35 115.60,193.37 116.10,193.55 116.60,193.27 117.10,193.37 117.60,193.35 118.10,193.32 118.60,193.39 119.10,193.32 119.60,193.53 120.00,193.40 120.10,193.40 120.60,193.48 121.10,193.34 121.60,193.44 122.10,193.50 122.60,193.59 123.10,193.43 123.60,193.51 124.10,193.64 124.60,193.65 125.10,193.49 125.60,193.60 126.00,193.60 126.10,193.75 126.60,193.99 127.10,194.42 127.60,194.77 128.00,195.00 128.10,196.39 128.60,202.52 128.80,205.00 129.10,214.70 129.50,227.50 129.60,224.96 130.10,212.57 130.20,210.00 130.60,205.45 131.00,201.00 131.10,200.84 131.50,200.20 131.60,199.89 132.10,198.51 132.60,197.20 133.10,196.59 133.60,196.12 134.10,195.70 134.60,195.84 135.10,195.88 135.60,195.94 136.10,196.20 136.60,198.10 137.10,199.75 137.60,201.76 138.10,203.47 138.20,203.80 138.60,201.74 139.10,199.35 139.60,196.83 139.70,196.20 140.10,196.31 140.60,196.45 141.10,196.80 141.60,197.06 142.10,197.19 142.20,197.20 142.60,197.52 143.10,197.69 143.60,198.04 144.10,198.23 144.60,198.56 144.80,198.70 145.10,198.36 145.60,197.87 146.10,197.37 146.60,196.99 146.80,196.70 147.10,196.46 147.60,196.23 148.10,196.01 148.60,195.98 148.90,195.70 149.10,199.27 149.60,208.03 149.90,213.50 150.10,211.36 150.60,205.77 151.10,200.16 151.40,196.70 151.60,196.85 152.10,197.43 152.60,197.77 153.00,198.20 153.10,199.11 153.60,204.43 154.00,208.40 154.10,207.72 154.60,203.63 155.10,199.93 155.50,196.70 155.60,196.53 156.10,196.45 156.60,196.20 157.10,196.09 157.60,195.92 158.10,195.93 158.60,195.70 159.10,195.57 159.60,195.46 160.10,195.39 160.60,195.35 161.10,195.44 161.60,195.29 162.10,195.07 162.60,195.17 162.70,195.10 163.10,195.32 163.60,195.56 164.10,195.85 164.60,196.16 165.10,196.47 165.60,196.65 165.70,196.70 166.10,197.41 166.60,198.19 167.10,199.07 167.20,199.20 167.60,198.42 168.10,197.49 168.60,196.58 168.80,196.20 169.10,196.23 169.60,196.04 170.10,196.17 170.60,195.98 171.10,196.03 171.60,195.92 172.10,195.93 172.60,195.79 172.90,195.70 173.10,195.78 173.60,196.02 174.10,196.33 174.60,196.63 174.90,196.70 175.10,197.42 175.60,198.74 176.10,200.25 176.40,201.30 176.60,200.41 177.10,198.46 177.60,196.52 178.00,195.10 178.10,194.92 178.60,194.82 179.10,194.62 179.60,194.62 180.10,194.43 180.60,194.37 181.00,194.10 181.10,194.43 181.60,195.34 182.10,196.37 182.60,197.20" fill="none" stroke="#159494" stroke-width="1.3" stroke-linejoin="round" /><polyline points="22.60,231.60 23.10,231.54 23.60,231.68 24.10,231.70 24.60,231.76 25.10,231.57 25.60,231.60 26.10,231.59 26.60,231.63 27.10,231.79 27.60,231.62 28.10,231.76 28.60,231.68 29.10,231.71 29.60,231.77 30.00,231.80 30.10,231.89 30.60,231.77 31.10,231.54 31.60,231.57 32.10,231.48 32.60,231.65 33.10,231.58 33.60,231.53 34.10,231.49 34.60,231.41 35.00,231.30 35.10,231.45 35.60,231.47 36.10,231.38 36.60,231.63 37.10,231.59 37.60,231.74 38.10,231.75 38.60,231.78 39.10,231.83 39.60,231.92 40.00,232.00 40.10,231.94 40.60,231.86 41.10,232.05 41.60,232.03 42.10,232.06 42.60,231.95 43.10,231.89 43.60,231.93 44.10,231.73 44.60,231.87 45.00,231.80 45.10,231.81 45.60,231.87 46.10,232.02 46.60,232.25 47.10,232.31 47.50,232.50 47.60,232.67 48.10,233.62 48.60,234.50 49.10,235.47 49.60,236.50 50.10,238.14 50.60,240.00 51.10,241.40 51.60,242.80 52.10,243.12 52.60,243.60 53.10,242.87 53.60,242.30 54.10,240.10 54.50,238.50 54.60,238.14 55.10,236.44 55.40,235.60 55.60,235.69 56.10,235.88 56.40,235.80 56.60,235.41 57.10,234.61 57.40,234.00 57.60,233.69 58.10,232.32 58.40,231.80 58.60,231.70 59.10,231.93 59.60,231.97 60.10,231.94 60.60,231.82 61.10,231.92 61.60,232.09 62.00,232.00 62.10,232.17 62.60,232.39 63.10,232.46 63.60,232.91 64.00,233.00 64.10,233.07 64.60,233.73 65.10,234.11 65.60,234.92 65.80,235.00 66.10,234.50 66.60,233.64 67.10,232.59 67.20,232.50 67.60,233.09 68.10,233.77 68.60,234.47 69.00,235.00 69.10,234.77 69.60,233.95 70.10,232.90 70.50,232.20 70.60,232.13 71.10,232.07 71.60,232.21 72.10,232.02 72.60,232.03 73.10,231.96 73.60,232.11 74.10,232.07 74.60,232.04 75.10,231.87 75.60,231.97 76.10,231.92 76.60,231.82 77.10,231.77 77.60,232.05 78.10,231.77 78.60,231.80 79.10,231.77 79.60,231.85 80.00,231.80 80.10,231.67 80.60,231.79 81.10,231.75 81.60,231.89 82.10,231.64 82.60,231.74 83.10,231.78 83.60,231.92 84.10,231.78 84.60,231.77 85.10,231.83 85.60,231.71 86.10,231.63 86.60,231.77 87.10,231.89 87.60,231.83 88.10,231.69 88.60,231.81 89.10,231.86 89.60,231.68 90.10,231.78 90.60,231.70 91.10,231.67 91.60,231.68 92.10,231.65 92.60,231.69 93.10,231.60 93.60,231.70 94.10,231.61 94.60,231.80 95.10,231.75 95.60,231.57 96.10,231.80 96.60,231.62 97.10,231.71 97.60,231.73 98.10,231.66 98.60,231.64 99.10,231.68 99.60,231.59 100.00,231.70 100.10,231.81 100.60,231.59 101.10,231.80 101.60,231.62 102.10,231.65 102.60,231.68 103.10,231.58 103.60,231.61 104.10,231.68 104.60,231.71 105.10,231.84 105.60,231.87 106.10,231.59 106.60,231.74 107.10,231.62 107.60,231.83 108.10,231.69 108.60,231.86 109.10,231.76 109.60,231.64 110.10,231.60 110.60,231.68 111.10,231.87 111.60,231.65 112.10,231.75 112.60,231.72 113.10,231.72 113.60,231.86 114.10,231.68 114.60,231.84 115.10,231.83 115.60,231.91 116.10,231.79 116.60,231.91 117.10,231.77 117.60,231.81 118.10,231.83 118.60,231.89 119.10,231.91 119.60,231.68 120.00,231.80 120.10,231.69 120.60,231.80 121.10,231.87 121.60,231.78 122.10,231.70 122.60,231.89 123.10,231.68 123.60,231.60 124.10,231.58 124.60,231.57 125.00,231.70 125.10,231.80 125.60,231.78 126.10,232.13 126.60,232.34 127.10,232.55 127.60,232.66 128.00,232.70 128.10,232.74 128.60,233.13 129.10,233.51 129.60,233.80 130.00,234.00 130.10,235.04 130.60,240.68 131.00,245.00 131.10,247.45 131.60,260.32 131.80,265.50 132.10,259.84 132.60,250.00 133.10,241.82 133.20,240.20 133.60,238.93 134.10,237.59 134.60,235.99 134.70,235.70 135.10,238.93 135.60,243.17 135.80,245.00 136.10,248.59 136.60,254.73 136.70,256.00 137.10,250.73 137.60,243.77 137.70,242.50 138.10,245.33 138.60,248.74 138.80,250.00 139.10,246.77 139.60,241.61 140.00,237.20 140.10,237.14 140.60,236.38 141.10,235.63 141.60,235.01 142.10,234.46 142.20,234.20 142.60,234.42 143.10,234.59 143.60,234.91 143.70,235.00 144.10,236.99 144.60,239.41 145.10,242.02 145.20,242.50 145.60,244.90 146.10,248.31 146.60,251.29 147.10,254.45 147.20,255.20 147.60,251.74 148.10,247.29 148.60,243.10 149.00,239.50 149.10,239.07 149.60,236.93 150.10,234.89 150.40,233.50 150.60,236.11 151.10,243.00 151.60,249.70 151.90,253.70 152.10,251.98 152.60,247.90 153.10,243.38 153.60,239.40 154.10,234.94 154.20,234.20 154.60,234.21 155.10,233.89 155.60,233.74 156.10,233.76 156.60,233.77 157.10,233.45 157.20,233.50 157.60,233.22 158.10,232.92 158.60,232.47 159.10,232.21 159.40,232.00 159.60,232.70 160.10,234.94 160.60,237.14 161.10,239.12 161.60,241.19 161.70,241.70 162.10,239.38 162.60,236.84 163.10,234.02 163.20,233.50 163.60,233.35 164.10,232.96 164.60,232.43 165.10,232.33 165.40,232.00 165.60,232.65 166.10,233.92 166.60,235.23 167.10,236.49 167.60,237.81 167.70,238.00 168.10,243.22 168.60,249.67 169.10,256.03 169.20,257.40 169.60,251.90 170.10,245.35 170.60,238.58 170.70,237.20 171.10,238.48 171.60,240.42 172.10,242.18 172.20,242.50 172.60,241.69 173.10,240.74 173.60,239.75 174.10,238.58 174.40,238.00 174.60,237.89 175.10,237.30 175.60,236.82 176.10,236.27 176.60,235.93 177.10,235.28 177.40,235.00 177.60,235.34 178.10,235.65 178.60,236.25 179.10,236.82 179.60,237.20 180.10,236.76 180.60,236.16 181.10,235.70 181.60,237.57 182.10,239.69 182.60,241.70" fill="none" stroke="#9c1cf0" stroke-width="1.3" stroke-linejoin="round" /><line x1="132.30" y1="153.70" x2="132.30" y2="270.00" stroke="#24449c" stroke-width="1.1" stroke-dasharray="5.5,2.2"/><rect x="22.60" y="151.00" width="160.20" height="119.50" fill="none" stroke="#6e6e6e" stroke-width="1.0"/><line x1="182.80" y1="271.00" x2="182.80" y2="273.00" stroke="#6e6e6e" stroke-width="0.8" /><line x1="159.91" y1="271.00" x2="159.91" y2="273.00" stroke="#6e6e6e" stroke-width="0.8" /><line x1="137.03" y1="271.00" x2="137.03" y2="273.00" stroke="#6e6e6e" stroke-width="0.8" /><line x1="114.14" y1="271.00" x2="114.14" y2="273.00" stroke="#6e6e6e" stroke-width="0.8" /><line x1="91.26" y1="271.00" x2="91.26" y2="273.00" stroke="#6e6e6e" stroke-width="0.8" /><line x1="68.37" y1="271.00" x2="68.37" y2="273.00" stroke="#6e6e6e" stroke-width="0.8" /><line x1="45.49" y1="271.00" x2="45.49" y2="273.00" stroke="#6e6e6e" stroke-width="0.8" /><line x1="22.60" y1="271.00" x2="22.60" y2="273.00" stroke="#6e6e6e" stroke-width="0.8" /><line x1="171.36" y1="271.00" x2="171.36" y2="272.20" stroke="#6e6e6e" stroke-width="0.8" /><line x1="148.47" y1="271.00" x2="148.47" y2="272.20" stroke="#6e6e6e" stroke-width="0.8" /><line x1="125.59" y1="271.00" x2="125.59" y2="272.20" stroke="#6e6e6e" stroke-width="0.8" /><line x1="102.70" y1="271.00" x2="102.70" y2="272.20" stroke="#6e6e6e" stroke-width="0.8" /><line x1="79.81" y1="271.00" x2="79.81" y2="272.20" stroke="#6e6e6e" stroke-width="0.8" /><line x1="56.93" y1="271.00" x2="56.93" y2="272.20" stroke="#6e6e6e" stroke-width="0.8" /><line x1="34.04" y1="271.00" x2="34.04" y2="272.20" stroke="#6e6e6e" stroke-width="0.8" /><text x="178.05" y="278.50" font-size="6.2" font-weight="bold" fill="#111" stroke="#111" stroke-width="0.3" textLength="9.49" lengthAdjust="spacingAndGlyphs" >500</text><text x="153.49" y="278.50" font-size="6.2" font-weight="bold" fill="#111" stroke="#111" stroke-width="0.3" textLength="12.85" lengthAdjust="spacingAndGlyphs" >1000</text><text x="130.60" y="278.50" font-size="6.2" font-weight="bold" fill="#111" stroke="#111" stroke-width="0.3" textLength="12.85" lengthAdjust="spacingAndGlyphs" >1500</text><text x="107.72" y="278.50" font-size="6.2" font-weight="bold" fill="#111" stroke="#111" stroke-width="0.3" textLength="12.85" lengthAdjust="spacingAndGlyphs" >2000</text><text x="84.83" y="278.50" font-size="6.2" font-weight="bold" fill="#111" stroke="#111" stroke-width="0.3" textLength="12.85" lengthAdjust="spacingAndGlyphs" >2500</text><text x="61.95" y="278.50" font-size="6.2" font-weight="bold" fill="#111" stroke="#111" stroke-width="0.3" textLength="12.85" lengthAdjust="spacingAndGlyphs" >3000</text><text x="39.06" y="278.50" font-size="6.2" font-weight="bold" fill="#111" stroke="#111" stroke-width="0.3" textLength="12.85" lengthAdjust="spacingAndGlyphs" >3500</text><text x="16.18" y="278.50" font-size="6.2" font-weight="bold" fill="#111" stroke="#111" stroke-width="0.3" textLength="12.85" lengthAdjust="spacingAndGlyphs" >4000</text><text x="1.40" y="153.20" font-size="11.4" font-weight="normal" fill="#111" stroke="#111" stroke-width="0.2" textLength="13.93" lengthAdjust="spacingAndGlyphs" >(b)</text><text x="0" y="0" font-size="6.4" font-weight="bold" fill="#111" stroke="#111" stroke-width="0.3" textLength="55.59" lengthAdjust="spacingAndGlyphs" transform="translate(18.40 242.40) rotate(-90)" >Transmittance (%)</text><text x="73.30" y="289.20" font-size="6.6" font-weight="bold" fill="#111" stroke="#111" stroke-width="0.3" textLength="58.69" lengthAdjust="spacingAndGlyphs"><tspan font-size="6.60" dy="0" >Wavenumber (cm</tspan><tspan font-size="3.96" dy="-2.6" >-1</tspan><tspan font-size="6.60" dy="2.6" >)</tspan></text><text x="74.20" y="180.80" font-size="5.0" font-weight="bold" fill="#111" stroke="#111" stroke-width="0.12" textLength="29.40" lengthAdjust="spacingAndGlyphs" >Por-TT COF</text><text x="133.70" y="189.30" font-size="5.5" font-weight="bold" fill="#111" stroke="#111" stroke-width="0.12" textLength="10.09" lengthAdjust="spacingAndGlyphs" >C=N</text><text x="110.00" y="218.90" font-size="5.4" font-weight="bold" fill="#111" stroke="#111" stroke-width="0.12" textLength="12.21" lengthAdjust="spacingAndGlyphs" >-C=O</text><text x="29.70" y="259.40" font-size="5.0" font-weight="bold" fill="#111" stroke="#111" stroke-width="0.12" textLength="11.00" lengthAdjust="spacingAndGlyphs"><tspan font-size="5.00" dy="0" >-NH</tspan><tspan font-size="3.50" dy="1.3" >2</tspan></text><rect x="229.1" y="151.9" width="9.6" height="116.7" fill="#22c8ee"/><rect x="304.6" y="152.1" width="3.6" height="117.0" fill="#f77a6e"/><polyline points="202.30,155.40 202.80,155.47 203.30,155.79 203.80,155.94 204.30,156.06 204.80,156.15 205.00,156.30 205.30,156.29 205.80,156.13 206.30,155.87 206.80,155.70 207.30,155.45 207.80,155.22 208.00,155.30 208.30,155.33 208.80,155.51 209.30,155.46 209.80,155.79 210.30,155.74 210.80,155.85 211.30,155.91 211.80,156.30 212.00,156.20 212.30,156.25 212.80,156.26 213.30,156.15 213.80,155.94 214.30,156.00 214.80,156.01 215.00,156.00 215.30,156.08 215.80,156.65 216.30,156.79 216.80,157.05 217.30,157.56 217.80,157.68 218.30,158.24 218.60,158.30 218.80,158.14 219.30,157.79 219.80,157.35 220.30,157.02 220.80,156.56 221.00,156.50 221.30,156.34 221.80,156.55 222.30,156.32 222.80,156.45 223.30,156.24 223.80,156.43 224.30,156.37 224.80,156.29 225.00,156.20 225.30,156.30 225.80,156.28 226.30,156.37 226.80,156.22 227.30,156.37 227.80,156.51 228.30,156.36 228.80,156.61 229.00,156.50 229.30,157.02 229.80,157.55 230.30,158.21 230.80,158.91 231.30,159.56 231.80,160.41 231.90,160.40 232.30,159.89 232.80,159.19 233.30,158.62 233.50,158.50 233.80,158.46 234.30,158.36 234.80,158.03 235.30,157.85 235.80,157.69 236.30,157.50 236.80,157.13 237.30,156.53 237.80,156.21 238.00,156.00 238.30,156.00 238.80,156.00 239.30,155.84 239.80,155.81 240.30,155.84 240.80,155.99 241.30,155.79 241.80,155.84 242.00,155.80 242.30,155.86 242.80,156.00 243.30,156.19 243.80,156.61 244.30,156.80 244.80,156.88 245.00,157.00 245.30,156.91 245.80,156.65 246.30,156.47 246.80,156.24 247.00,156.00 247.30,156.12 247.80,156.55 248.30,156.79 248.80,156.93 249.30,157.26 249.80,157.40 250.00,157.50 250.30,157.31 250.80,157.02 251.30,156.96 251.80,156.50 252.00,156.50 252.30,156.32 252.80,156.46 253.30,156.37 253.80,156.19 254.30,156.22 254.80,155.90 255.00,156.00 255.30,155.90 255.80,155.87 256.30,155.87 256.80,155.76 257.30,155.69 257.80,155.73 258.30,155.86 258.80,155.84 259.30,155.73 259.80,155.61 260.00,155.60 260.30,155.52 260.80,155.73 261.30,155.59 261.80,155.65 262.30,155.44 262.80,155.49 263.30,155.67 263.80,155.65 264.30,155.67 264.80,155.58 265.30,155.52 265.80,155.57 266.30,155.64 266.80,155.47 267.30,155.54 267.80,155.45 268.30,155.60 268.80,155.37 269.30,155.56 269.80,155.64 270.00,155.50 270.30,155.35 270.80,155.52 271.30,155.53 271.80,155.59 272.30,155.50 272.80,155.40 273.30,155.44 273.80,155.60 274.30,155.58 274.80,155.34 275.30,155.33 275.80,155.32 276.30,155.29 276.80,155.42 277.30,155.32 277.80,155.53 278.30,155.46 278.80,155.30 279.30,155.42 279.80,155.35 280.00,155.40 280.30,155.40 280.80,155.32 281.30,155.31 281.80,155.32 282.30,155.39 282.80,155.49 283.30,155.45 283.80,155.30 284.30,155.51 284.80,155.56 285.30,155.54 285.80,155.55 286.30,155.32 286.80,155.46 287.30,155.34 287.80,155.56 288.30,155.39 288.80,155.55 289.30,155.42 289.80,155.56 290.00,155.50 290.30,155.45 290.80,155.37 291.30,155.48 291.80,155.46 292.30,155.64 292.80,155.47 293.30,155.53 293.80,155.55 294.30,155.68 294.80,155.43 295.30,155.58 295.80,155.56 296.30,155.63 296.80,155.71 297.30,155.52 297.80,155.64 298.30,155.59 298.80,155.61 299.30,155.46 299.80,155.69 300.00,155.60 300.30,155.76 300.80,155.61 301.30,155.63 301.80,155.87 302.30,155.64 302.80,155.66 303.00,155.80 303.30,155.73 303.80,156.05 304.30,156.14 304.80,156.14 305.00,156.20 305.30,158.80 305.80,162.88 306.30,167.34 306.50,169.00 306.80,167.18 307.30,164.21 307.50,163.00 307.80,162.15 308.30,160.79 308.60,160.00 308.80,161.70 309.30,166.09 309.50,168.00 309.80,171.41 310.20,176.00 310.30,174.92 310.80,170.00 311.30,165.31 311.40,164.30 311.80,162.88 312.30,160.95 312.80,158.97 312.90,158.60 313.30,160.56 313.80,163.15 314.30,165.73 314.80,168.32 315.00,169.30 315.30,167.91 315.80,165.10 316.30,162.67 316.80,160.13 317.10,158.60 317.30,158.37 317.80,157.69 318.30,156.92 318.60,156.40 318.80,157.05 319.30,158.63 319.80,160.14 320.00,160.70 320.30,160.96 320.80,161.16 321.30,161.40 321.40,161.40 321.80,160.76 322.30,160.27 322.80,159.41 322.90,159.30 323.30,159.93 323.80,160.75 324.30,161.40 324.80,161.90 325.30,162.26 325.80,162.32 326.30,162.77 326.40,162.90 326.80,162.63 327.30,162.39 327.80,162.05 327.90,162.10 328.30,164.55 328.80,167.44 329.20,170.00 329.30,170.65 329.80,174.41 330.00,175.70 330.30,172.89 330.80,168.00 331.30,163.07 331.40,162.10 331.80,161.73 332.30,161.66 332.80,161.27 333.30,160.80 333.60,160.70 333.80,160.38 334.30,159.81 334.80,159.15 335.30,158.36 335.70,157.90 335.80,157.93 336.30,157.20 336.80,156.65 337.10,156.40 337.30,158.13 337.80,161.99 338.30,166.21 338.60,168.60 338.80,167.28 339.30,164.33 339.80,161.16 340.00,160.00 340.30,159.28 340.80,158.32 341.30,157.05 341.80,155.91 341.90,155.70 342.30,156.91 342.80,158.28 343.30,159.72 343.60,160.70 343.80,161.79 344.30,164.58 344.80,167.38 345.00,168.60 345.30,169.96 345.80,171.72 346.30,173.99 346.40,174.30 346.80,181.41 347.30,190.00 347.80,179.35 348.00,175.00 348.30,168.06 348.60,161.40 348.80,162.63 349.30,165.56 349.80,168.80 350.00,170.00 350.30,168.84 350.80,166.66 351.30,164.56 351.40,164.30 351.80,164.19 352.30,163.89 352.80,163.80 353.30,163.68 353.60,163.60 353.80,163.79 354.30,163.79 354.80,163.89 355.30,164.25 355.70,164.30 355.80,164.30 356.30,163.71 356.80,163.06 357.30,162.61 357.80,162.17 357.90,162.10 358.30,161.88 358.80,161.49 359.30,161.37 359.80,161.09 360.30,160.70" fill="none" stroke="#159494" stroke-width="1.3" stroke-linejoin="round" /><polyline points="202.30,193.70 202.80,193.84 203.30,193.60 203.80,193.57 204.30,193.87 204.80,193.62 205.30,193.61 205.80,193.77 206.30,193.69 206.80,193.85 207.30,193.66 207.80,193.88 208.30,193.69 208.80,193.78 209.30,193.88 209.80,193.81 210.30,193.89 210.80,193.83 211.30,193.64 211.80,193.89 212.30,193.81 212.80,193.73 213.30,193.69 213.80,193.90 214.30,193.82 214.80,193.93 215.00,193.80 215.30,193.88 215.80,193.93 216.30,193.81 216.80,193.84 217.30,193.81 217.80,193.70 218.30,193.90 218.80,193.71 219.30,193.84 219.80,193.89 220.30,193.79 220.80,193.63 221.30,193.83 221.80,193.78 222.30,193.63 222.80,193.59 223.30,193.73 223.80,193.57 224.30,193.83 224.80,193.70 225.00,193.70 225.30,193.73 225.80,193.73 226.30,193.85 226.80,193.96 227.30,193.81 227.80,193.87 228.30,193.97 228.80,193.92 229.00,194.00 229.30,194.12 229.80,194.27 230.30,194.40 230.80,194.63 231.30,194.74 231.50,194.80 231.80,194.60 232.30,194.76 232.80,194.44 233.30,194.35 233.80,194.22 234.00,194.20 234.30,194.31 234.80,194.28 235.30,194.12 235.80,194.05 236.30,193.93 236.80,194.13 237.30,193.88 237.80,193.96 238.30,193.87 238.80,193.83 239.30,193.80 239.80,193.72 240.00,193.80 240.30,193.67 240.80,193.83 241.30,193.91 241.80,193.88 242.30,193.76 242.80,193.91 243.30,193.73 243.80,193.85 244.30,193.98 244.80,194.02 245.30,193.89 245.80,194.02 246.30,193.93 246.80,193.94 247.30,193.97 247.80,194.10 248.30,194.04 248.80,193.97 249.30,194.05 249.80,194.04 250.00,194.00 250.30,194.18 250.80,194.69 251.30,195.07 251.80,195.38 252.00,195.50 252.30,196.29 252.80,197.10 253.10,197.90 253.30,197.55 253.80,196.73 254.20,196.00 254.30,195.87 254.80,195.40 255.30,195.14 255.80,194.65 256.00,194.50 256.30,194.41 256.80,194.30 257.30,194.54 257.80,194.32 258.30,194.21 258.80,194.20 259.30,194.18 259.80,194.32 260.00,194.20 260.30,194.10 260.80,194.12 261.30,194.05 261.80,194.15 262.30,194.07 262.80,194.10 263.30,194.20 263.80,194.25 264.30,194.21 264.80,193.97 265.30,194.06 265.80,194.19 266.30,193.93 266.80,193.97 267.30,194.05 267.80,194.01 268.30,194.11 268.80,194.09 269.30,194.00 269.80,193.93 270.00,194.00 270.30,193.91 270.80,193.91 271.30,193.84 271.80,194.01 272.30,193.85 272.80,194.06 273.30,193.98 273.80,193.79 274.30,193.91 274.80,193.94 275.30,193.76 275.80,193.88 276.30,193.73 276.80,193.94 277.30,193.71 277.80,193.88 278.30,193.98 278.80,193.93 279.30,193.73 279.80,193.81 280.00,193.80 280.30,193.69 280.80,193.74 281.30,193.88 281.80,193.86 282.30,193.61 282.80,193.71 283.30,193.78 283.80,193.63 284.30,193.80 284.80,193.82 285.30,193.71 285.80,193.64 286.30,193.78 286.80,193.67 287.30,193.56 287.80,193.58 288.30,193.53 288.80,193.73 289.30,193.62 289.80,193.66 290.00,193.60 290.30,193.69 290.80,193.73 291.30,193.49 291.80,193.55 292.30,193.69 292.80,193.65 293.30,193.53 293.80,193.61 294.30,193.47 294.80,193.45 295.30,193.41 295.80,193.51 296.30,193.46 296.80,193.54 297.30,193.67 297.80,193.42 298.30,193.53 298.80,193.62 299.30,193.54 299.80,193.51 300.00,193.50 300.30,193.61 300.80,193.44 301.30,193.76 301.80,193.74 302.00,193.70 302.30,193.99 302.80,194.33 303.30,194.45 303.80,194.77 304.10,195.10 304.30,196.65 304.80,200.88 305.30,205.00 305.80,214.13 306.30,223.12 306.50,226.60 306.80,223.99 307.30,219.76 307.50,218.00 307.80,214.80 308.30,209.22 308.60,206.00 308.80,205.46 309.30,203.76 309.80,202.01 309.90,201.60 310.30,200.69 310.80,199.38 311.30,198.00 311.80,197.55 312.30,196.95 312.80,196.43 313.30,195.92 313.40,195.90 313.80,196.70 314.30,198.13 314.80,199.11 314.90,199.40 315.30,198.03 315.80,196.58 316.30,195.10 316.80,194.81 317.30,194.75 317.80,194.55 318.30,194.34 318.40,194.40 318.80,194.79 319.30,195.27 319.80,195.76 319.90,195.90 320.30,200.27 320.80,205.47 320.90,206.60 321.30,202.98 321.80,198.53 322.00,196.60 322.30,196.42 322.80,195.71 323.30,195.07 323.40,195.10 323.80,198.84 324.30,203.20 324.60,205.90 324.80,203.96 325.30,199.28 325.60,196.60 325.80,196.25 326.30,195.58 326.80,194.83 327.30,194.12 327.70,193.70 327.80,194.55 328.30,198.00 328.60,200.00 328.80,203.48 329.30,212.59 329.40,214.40 329.80,208.55 330.10,204.00 330.30,202.76 330.60,200.90 330.80,199.94 331.30,197.95 331.80,195.89 332.00,195.10 332.30,195.44 332.80,195.70 333.30,196.02 333.80,196.42 334.10,196.60 334.30,196.20 334.80,195.73 335.30,195.11 335.80,194.41 336.30,193.70 336.80,194.18 337.30,194.68 337.80,195.12 338.30,195.67 338.40,195.90 338.80,195.40 339.30,194.99 339.80,194.58 340.30,193.92 340.60,193.70 340.80,193.69 341.30,193.74 341.80,193.74 342.30,193.56 342.80,193.83 343.30,193.73 343.40,193.70 343.80,194.17 344.30,194.81 344.80,195.60 345.30,196.33 345.60,196.60 345.80,199.55 346.30,207.07 346.60,211.60 346.80,209.99 347.30,205.81 347.40,205.10 347.80,207.67 348.30,211.08 348.40,211.60 348.80,207.34 349.30,202.07 349.40,200.90 349.80,199.61 350.30,198.26 350.80,196.71 351.30,195.10 351.80,194.82 352.30,194.72 352.80,194.57 353.30,194.34 353.80,194.16 354.30,193.86 354.80,193.76 354.90,193.70 355.30,193.52 355.80,193.49 356.30,193.20 356.80,193.21 357.00,193.00 357.30,193.22 357.80,193.45 358.30,193.84 358.80,194.09 359.10,194.40 359.30,194.81 359.80,195.45 360.30,196.46 360.40,196.60" fill="none" stroke="#979712" stroke-width="1.3" stroke-linejoin="round" /><polyline points="202.30,232.40 202.80,232.54 203.30,232.56 203.80,232.56 204.30,232.33 204.80,232.49 205.30,232.46 205.80,232.50 206.30,232.39 206.80,232.42 207.30,232.51 207.80,232.46 208.30,232.54 208.80,232.43 209.30,232.46 209.80,232.66 210.00,232.60 210.30,232.55 210.80,232.54 211.30,232.57 211.80,232.41 212.30,232.28 212.80,232.46 213.30,232.36 213.80,232.34 214.30,232.29 214.80,232.36 215.00,232.20 215.30,232.19 215.80,232.37 216.30,232.32 216.80,232.44 217.30,232.52 217.80,232.48 218.30,232.47 218.80,232.65 219.30,232.78 219.80,232.80 220.00,232.80 220.30,232.80 220.80,232.88 221.30,232.77 221.80,232.79 222.30,232.86 222.80,233.03 223.30,232.87 223.80,232.87 224.00,233.00 224.30,233.28 224.80,233.93 225.30,234.67 225.50,235.00 225.80,234.62 226.30,234.03 226.80,233.22 227.00,233.00 227.30,233.06 227.80,233.20 228.30,233.37 228.50,233.50 228.80,234.18 229.30,235.11 229.50,235.50 229.80,236.59 230.30,238.49 230.40,239.00 230.80,240.64 231.30,242.50 231.80,243.06 232.20,243.40 232.30,243.38 232.80,242.59 233.10,242.30 233.30,241.47 233.80,239.47 234.00,238.50 234.30,237.43 234.80,235.70 234.90,235.20 235.30,234.86 235.80,234.80 235.90,234.60 236.30,235.05 236.80,235.88 237.00,236.20 237.30,236.26 237.80,236.83 237.90,236.80 238.30,235.83 238.80,234.50 239.30,233.79 239.80,232.80 240.30,232.85 240.80,232.84 241.30,232.68 241.80,232.76 242.00,232.60 242.30,232.78 242.80,232.84 243.30,233.21 243.80,233.21 244.30,233.34 244.50,233.50 244.80,233.84 245.30,234.75 245.80,235.45 245.90,235.70 246.30,235.16 246.80,234.32 247.30,233.25 247.50,233.00 247.80,232.85 248.30,232.94 248.80,232.79 249.30,232.85 249.80,232.89 250.30,232.68 250.80,232.68 251.30,232.78 251.80,232.60 252.00,232.60 252.30,232.55 252.80,232.70 253.30,232.66 253.80,232.67 254.30,232.60 254.80,232.50 255.30,232.58 255.80,232.60 256.30,232.53 256.80,232.40 257.30,232.41 257.80,232.43 258.30,232.52 258.80,232.45 259.30,232.43 259.80,232.50 260.00,232.40 260.30,232.28 260.80,232.43 261.30,232.34 261.80,232.40 262.30,232.48 262.80,232.30 263.30,232.50 263.80,232.24 264.30,232.38 264.80,232.36 265.30,232.27 265.80,232.36 266.30,232.33 266.80,232.32 267.30,232.39 267.80,232.17 268.30,232.28 268.80,232.40 269.30,232.20 269.80,232.41 270.30,232.21 270.80,232.35 271.30,232.19 271.80,232.27 272.30,232.25 272.80,232.15 273.30,232.33 273.80,232.26 274.30,232.31 274.80,232.26 275.30,232.26 275.80,232.25 276.30,232.18 276.80,232.35 277.30,232.10 277.80,232.33 278.30,232.33 278.80,232.21 279.30,232.29 279.80,232.25 280.00,232.20 280.30,232.23 280.80,232.14 281.30,232.15 281.80,232.15 282.30,232.14 282.80,232.34 283.30,232.15 283.80,232.17 284.30,232.18 284.80,232.29 285.30,232.19 285.80,232.22 286.30,232.13 286.80,232.13 287.30,232.08 287.80,232.12 288.30,232.13 288.80,232.31 289.30,232.20 289.80,232.08 290.30,232.19 290.80,232.09 291.30,232.22 291.80,232.18 292.30,232.31 292.80,232.13 293.30,232.31 293.80,232.12 294.30,232.34 294.80,232.24 295.00,232.20 295.30,232.07 295.80,232.30 296.30,232.15 296.80,232.18 297.30,232.13 297.80,232.34 298.30,232.12 298.80,232.33 299.30,232.23 299.80,232.32 300.30,232.21 300.80,232.16 301.30,232.41 301.80,232.34 302.00,232.30 302.30,232.25 302.80,232.58 303.30,232.65 303.80,232.52 304.30,232.55 304.80,232.82 305.30,232.76 305.80,233.03 306.30,233.03 306.80,233.19 307.20,233.20 307.30,234.13 307.80,238.73 308.30,243.28 308.50,245.00 308.80,251.69 309.30,262.79 309.50,267.20 309.80,261.99 310.30,253.33 310.50,250.00 310.80,245.64 311.30,238.70 311.80,240.06 312.30,241.11 312.50,241.70 312.80,240.75 313.30,239.18 313.70,238.00 313.80,239.28 314.30,245.49 314.80,251.82 315.20,256.70 315.30,255.41 315.80,249.04 316.20,244.00 316.30,244.70 316.80,247.97 317.00,249.20 317.30,246.93 317.80,242.74 318.30,238.92 318.50,237.20 318.80,237.14 319.30,236.80 319.80,236.20 320.30,235.94 320.70,235.70 320.80,235.85 321.30,236.19 321.80,236.28 322.30,236.71 322.80,237.14 323.00,237.20 323.30,239.73 323.80,243.76 324.30,247.75 324.80,251.90 325.20,255.20 325.30,254.22 325.80,250.06 326.30,245.86 326.70,242.50 326.80,242.16 327.30,239.91 327.80,237.67 328.30,235.43 328.60,234.20 328.80,236.84 329.30,243.68 329.80,250.34 330.10,254.40 330.30,252.01 330.80,246.47 331.30,240.66 331.60,237.20 331.80,237.06 332.30,236.21 332.80,235.53 333.30,234.76 333.80,234.10 334.20,233.50 334.30,233.60 334.80,233.48 335.30,233.25 335.80,233.05 336.30,232.81 336.80,232.91 337.20,232.70 337.30,233.08 337.80,235.12 338.30,237.07 338.80,239.11 339.30,241.26 339.40,241.70 339.80,239.84 340.30,237.27 340.80,234.76 341.20,232.70 341.30,232.78 341.80,232.81 342.30,232.93 342.80,233.20 343.30,233.19 343.80,233.50 343.90,233.50 344.30,234.84 344.80,236.51 345.30,238.05 345.70,239.50 345.80,240.62 346.30,246.97 346.80,253.11 347.20,258.20 347.30,256.80 347.80,249.46 348.30,242.32 348.70,236.50 348.80,237.12 349.30,239.81 349.80,242.52 350.20,244.70 350.30,244.29 350.80,242.76 351.30,241.37 351.80,239.58 352.10,238.70 352.30,238.44 352.80,238.00 353.30,237.51 353.80,237.09 354.30,236.44 354.80,236.14 355.10,235.70 355.30,235.69 355.80,236.24 356.30,236.50 356.80,236.93 357.30,237.03 357.40,237.20 357.80,237.95 358.30,238.89 358.80,239.67 359.30,240.37 359.60,241.00 359.80,240.38 360.30,238.52 360.40,238.00" fill="none" stroke="#9c1cf0" stroke-width="1.3" stroke-linejoin="round" /><line x1="310.40" y1="152.50" x2="310.40" y2="269.50" stroke="#24449c" stroke-width="1.1" stroke-dasharray="5.5,2.2"/><rect x="202.40" y="150.80" width="158.20" height="119.20" fill="none" stroke="#6e6e6e" stroke-width="1.0"/><line x1="360.60" y1="270.50" x2="360.60" y2="272.50" stroke="#6e6e6e" stroke-width="0.8" /><line x1="338.00" y1="270.50" x2="338.00" y2="272.50" stroke="#6e6e6e" stroke-width="0.8" /><line x1="315.40" y1="270.50" x2="315.40" y2="272.50" stroke="#6e6e6e" stroke-width="0.8" /><line x1="292.80" y1="270.50" x2="292.80" y2="272.50" stroke="#6e6e6e" stroke-width="0.8" /><line x1="270.20" y1="270.50" x2="270.20" y2="272.50" stroke="#6e6e6e" stroke-width="0.8" /><line x1="247.60" y1="270.50" x2="247.60" y2="272.50" stroke="#6e6e6e" stroke-width="0.8" /><line x1="225.00" y1="270.50" x2="225.00" y2="272.50" stroke="#6e6e6e" stroke-width="0.8" /><line x1="202.40" y1="270.50" x2="202.40" y2="272.50" stroke="#6e6e6e" stroke-width="0.8" /><line x1="349.30" y1="270.50" x2="349.30" y2="271.70" stroke="#6e6e6e" stroke-width="0.8" /><line x1="326.70" y1="270.50" x2="326.70" y2="271.70" stroke="#6e6e6e" stroke-width="0.8" /><line x1="304.10" y1="270.50" x2="304.10" y2="271.70" stroke="#6e6e6e" stroke-width="0.8" /><line x1="281.50" y1="270.50" x2="281.50" y2="271.70" stroke="#6e6e6e" stroke-width="0.8" /><line x1="258.90" y1="270.50" x2="258.90" y2="271.70" stroke="#6e6e6e" stroke-width="0.8" /><line x1="236.30" y1="270.50" x2="236.30" y2="271.70" stroke="#6e6e6e" stroke-width="0.8" /><line x1="213.70" y1="270.50" x2="213.70" y2="271.70" stroke="#6e6e6e" stroke-width="0.8" /><text x="355.85" y="278.30" font-size="6.2" font-weight="bold" fill="#111" stroke="#111" stroke-width="0.3" textLength="9.49" lengthAdjust="spacingAndGlyphs" >500</text><text x="331.57" y="278.30" font-size="6.2" font-weight="bold" fill="#111" stroke="#111" stroke-width="0.3" textLength="12.85" lengthAdjust="spacingAndGlyphs" >1000</text><text x="308.98" y="278.30" font-size="6.2" font-weight="bold" fill="#111" stroke="#111" stroke-width="0.3" textLength="12.85" lengthAdjust="spacingAndGlyphs" >1500</text><text x="286.38" y="278.30" font-size="6.2" font-weight="bold" fill="#111" stroke="#111" stroke-width="0.3" textLength="12.85" lengthAdjust="spacingAndGlyphs" >2000</text><text x="263.78" y="278.30" font-size="6.2" font-weight="bold" fill="#111" stroke="#111" stroke-width="0.3" textLength="12.85" lengthAdjust="spacingAndGlyphs" >2500</text><text x="241.18" y="278.30" font-size="6.2" font-weight="bold" fill="#111" stroke="#111" stroke-width="0.3" textLength="12.85" lengthAdjust="spacingAndGlyphs" >3000</text><text x="218.57" y="278.30" font-size="6.2" font-weight="bold" fill="#111" stroke="#111" stroke-width="0.3" textLength="12.85" lengthAdjust="spacingAndGlyphs" >3500</text><text x="195.97" y="278.30" font-size="6.2" font-weight="bold" fill="#111" stroke="#111" stroke-width="0.3" textLength="12.85" lengthAdjust="spacingAndGlyphs" >4000</text><text x="186.80" y="153.20" font-size="11.4" font-weight="normal" fill="#111" stroke="#111" stroke-width="0.2" textLength="13.93" lengthAdjust="spacingAndGlyphs" >(d)</text><text x="0" y="0" font-size="6.3" font-weight="bold" fill="#111" stroke="#111" stroke-width="0.3" textLength="54.59" lengthAdjust="spacingAndGlyphs" transform="translate(194.10 241.40) rotate(-90)" >Transmittance (%)</text><text x="250.30" y="289.60" font-size="6.6" font-weight="bold" fill="#111" stroke="#111" stroke-width="0.3" textLength="61.89" lengthAdjust="spacingAndGlyphs"><tspan font-size="6.60" dy="0" >Wavenumber (cm</tspan><tspan font-size="3.96" dy="-2.6" >-1</tspan><tspan font-size="6.60" dy="2.6" >)</tspan></text><text x="256.60" y="173.30" font-size="5.2" font-weight="bold" fill="#111" stroke="#111" stroke-width="0.12" textLength="30.01" lengthAdjust="spacingAndGlyphs" >COF-366-Zn</text><text x="313.40" y="185.80" font-size="5.4" font-weight="bold" fill="#111" stroke="#111" stroke-width="0.12" textLength="12.31" lengthAdjust="spacingAndGlyphs" >-C=N</text><text x="289.30" y="216.80" font-size="5.4" font-weight="bold" fill="#111" stroke="#111" stroke-width="0.12" textLength="12.51" lengthAdjust="spacingAndGlyphs" >-C=O</text><text x="214.40" y="249.70" font-size="5.0" font-weight="bold" fill="#111" stroke="#111" stroke-width="0.12" textLength="10.80" lengthAdjust="spacingAndGlyphs"><tspan font-size="5.00" dy="0" >-NH</tspan><tspan font-size="3.50" dy="1.3" >2</tspan></text><rect x="385.50" y="151.50" width="160.90" height="119.90" fill="none" stroke="#6e6e6e" stroke-width="1.0"/><line x1="401.80" y1="271.90" x2="401.80" y2="273.90" stroke="#6e6e6e" stroke-width="0.8" /><line x1="443.30" y1="271.90" x2="443.30" y2="273.90" stroke="#6e6e6e" stroke-width="0.8" /><line x1="484.80" y1="271.90" x2="484.80" y2="273.90" stroke="#6e6e6e" stroke-width="0.8" /><line x1="526.30" y1="271.90" x2="526.30" y2="273.90" stroke="#6e6e6e" stroke-width="0.8" /><line x1="422.55" y1="271.90" x2="422.55" y2="273.10" stroke="#6e6e6e" stroke-width="0.8" /><line x1="464.05" y1="271.90" x2="464.05" y2="273.10" stroke="#6e6e6e" stroke-width="0.8" /><line x1="505.55" y1="271.90" x2="505.55" y2="273.10" stroke="#6e6e6e" stroke-width="0.8" /><text x="395.28" y="280.40" font-size="6.1" font-weight="bold" fill="#111" stroke="#111" stroke-width="0.3" textLength="13.05" lengthAdjust="spacingAndGlyphs" >1020</text><text x="436.78" y="280.40" font-size="6.1" font-weight="bold" fill="#111" stroke="#111" stroke-width="0.3" textLength="13.05" lengthAdjust="spacingAndGlyphs" >1030</text><text x="478.28" y="280.40" font-size="6.1" font-weight="bold" fill="#111" stroke="#111" stroke-width="0.3" textLength="13.05" lengthAdjust="spacingAndGlyphs" >1040</text><text x="519.78" y="280.40" font-size="6.1" font-weight="bold" fill="#111" stroke="#111" stroke-width="0.3" textLength="13.05" lengthAdjust="spacingAndGlyphs" >1050</text><text x="434.90" y="289.50" font-size="6.9" font-weight="bold" fill="#111" stroke="#111" stroke-width="0.3" textLength="63.71" lengthAdjust="spacingAndGlyphs" >Binding Energy (eV)</text><text x="0" y="0" font-size="6.4" font-weight="bold" fill="#111" stroke="#111" stroke-width="0.3" textLength="27.89" lengthAdjust="spacingAndGlyphs" transform="translate(383.00 230.20) rotate(-90)" >Counts/s</text><text x="368.80" y="153.90" font-size="11.4" font-weight="normal" fill="#111" stroke="#111" stroke-width="0.2" textLength="10.49" lengthAdjust="spacingAndGlyphs" >(f)</text><text x="386.80" y="173.50" font-size="7.1" font-weight="bold" fill="#111" stroke="#111" stroke-width="0.3" textLength="67.61" lengthAdjust="spacingAndGlyphs"><tspan font-size="7.10" dy="0" >Zn 2p</tspan><tspan font-size="4.26" dy="2.3" >3/2</tspan><tspan font-size="7.10" dy="-2.3" >1022.04 eV</tspan></text><text x="476.30" y="210.20" font-size="7.1" font-weight="bold" fill="#111" stroke="#111" stroke-width="0.3" textLength="67.71" lengthAdjust="spacingAndGlyphs"><tspan font-size="7.10" dy="0" >Zn 2p</tspan><tspan font-size="4.26" dy="2.3" >1/2</tspan><tspan font-size="7.10" dy="-2.3" >1045.14 eV</tspan></text><defs><linearGradient id="g1" x1="0" y1="0" x2="0" y2="1"><stop offset="0" stop-color="#00f2f2"/><stop offset="0.5" stop-color="#12c4c4"/><stop offset="0.7" stop-color="#127878"/><stop offset="0.88" stop-color="#0d3535"/><stop offset="1" stop-color="#0a1a1a"/></linearGradient><linearGradient id="g2" x1="0" y1="0" x2="0" y2="1"><stop offset="0" stop-color="#2a1aff"/><stop offset="0.3" stop-color="#8a00f0"/><stop offset="0.55" stop-color="#f000c0"/><stop offset="0.8" stop-color="#ff0090"/><stop offset="1" stop-color="#ff1090"/></linearGradient></defs><path d="M398.00,253.80 L398.25,253.75 L398.50,253.71 L398.75,253.66 L399.00,253.60 L399.25,253.54 L399.50,253.46 L399.75,253.37 L400.00,253.27 L400.25,253.15 L400.50,253.01 L400.75,252.84 L401.00,252.64 L401.25,252.40 L401.50,252.11 L401.75,251.77 L402.00,251.36 L402.25,250.87 L402.50,250.30 L402.75,249.63 L403.00,248.84 L403.25,247.92 L403.50,246.86 L403.75,245.63 L404.00,244.24 L404.25,242.65 L404.50,240.87 L404.75,238.87 L405.00,236.66 L405.25,234.23 L405.50,231.58 L405.75,228.71 L406.00,225.64 L406.25,222.39 L406.50,218.96 L406.75,215.40 L407.00,211.74 L407.25,208.01 L407.50,204.27 L407.75,200.57 L408.00,196.96 L408.25,193.49 L408.50,190.25 L408.75,187.28 L409.00,184.66 L409.25,182.44 L409.50,180.67 L409.75,179.41 L410.00,178.68 L410.25,178.51 L410.50,178.74 L410.75,179.30 L411.00,180.18 L411.25,181.37 L411.50,182.84 L411.75,184.58 L412.00,186.56 L412.25,188.75 L412.50,191.12 L412.75,193.65 L413.00,196.30 L413.25,199.05 L413.50,201.87 L413.75,204.73 L414.00,207.61 L414.25,210.48 L414.50,213.33 L414.75,216.12 L415.00,218.86 L415.25,221.51 L415.50,224.06 L415.75,226.51 L416.00,228.85 L416.25,231.07 L416.50,233.15 L416.75,235.11 L417.00,236.94 L417.25,238.64 L417.50,240.21 L417.75,241.66 L418.00,242.98 L418.25,244.19 L418.50,245.28 L418.75,246.27 L419.00,247.17 L419.25,247.97 L419.50,248.68 L419.75,249.32 L420.00,249.88 L420.25,250.38 L420.50,250.82 L420.75,251.20 L421.00,251.54 L421.25,251.84 L421.50,252.10 L421.75,252.33 L422.00,252.52 L422.25,252.70 L422.50,252.85 L422.75,252.98 L423.00,253.09 L423.25,253.20 L423.50,253.28 L423.75,253.36 L424.00,253.43 L424,254.59 L398,255.18 Z" fill="url(#g1)"/><path d="M494.00,251.53 L494.25,251.50 L494.50,251.48 L494.75,251.45 L495.00,251.42 L495.25,251.38 L495.50,251.33 L495.75,251.28 L496.00,251.22 L496.25,251.15 L496.50,251.06 L496.75,250.95 L497.00,250.83 L497.25,250.68 L497.50,250.51 L497.75,250.30 L498.00,250.05 L498.25,249.76 L498.50,249.41 L498.75,249.01 L499.00,248.54 L499.25,247.99 L499.50,247.37 L499.75,246.66 L500.00,245.85 L500.25,244.95 L500.50,243.94 L500.75,242.82 L501.00,241.59 L501.25,240.25 L501.50,238.81 L501.75,237.27 L502.00,235.64 L502.25,233.92 L502.50,232.15 L502.75,230.32 L503.00,228.47 L503.25,226.62 L503.50,224.78 L503.75,223.00 L504.00,221.31 L504.25,219.72 L504.50,218.28 L504.75,217.02 L505.00,215.96 L505.25,215.13 L505.50,214.56 L505.75,214.25 L506.00,214.21 L506.25,214.37 L506.50,214.70 L506.75,215.19 L507.00,215.84 L507.25,216.64 L507.50,217.57 L507.75,218.62 L508.00,219.77 L508.25,221.01 L508.50,222.33 L508.75,223.71 L509.00,225.13 L509.25,226.58 L509.50,228.04 L509.75,229.50 L510.00,230.96 L510.25,232.39 L510.50,233.80 L510.75,235.16 L511.00,236.47 L511.25,237.73 L511.50,238.94 L511.75,240.08 L512.00,241.15 L512.25,242.16 L512.50,243.10 L512.75,243.97 L513.00,244.77 L513.25,245.51 L513.50,246.19 L513.75,246.80 L514.00,247.36 L514.25,247.86 L514.50,248.31 L514.75,248.71 L515.00,249.07 L515.25,249.38 L515.50,249.66 L515.75,249.91 L516.00,250.13 L516.25,250.32 L516.50,250.48 L516.75,250.63 L517.00,250.75 L517.25,250.86 L517.50,250.96 L517.75,251.04 L518.00,251.11 L518.25,251.18 L518.50,251.23 L518.75,251.28 L519.00,251.32 L519.25,251.36 L519.50,251.39 L519.75,251.42 L520.00,251.45 L520,251.30 L494,252.52 Z" fill="url(#g2)"/><polyline points="418.00,253.00 440.00,252.00 470.00,251.20 494.00,250.60" fill="none" stroke="#d8d8d8" stroke-width="0.7" stroke-linejoin="round" /><polyline points="516.00,249.80 530.00,249.20 546.00,248.90" fill="none" stroke="#dddddd" stroke-width="0.7" stroke-linejoin="round" /><polyline points="385.00,255.40 414.00,254.90 450.00,253.80 486.00,252.90 520.00,251.30 547.00,250.50" fill="none" stroke="#ff30d0" stroke-width="1.2" stroke-linejoin="round" /><polygon points="81.62,244.62 84.05,244.23 85.17,246.43 83.43,248.17 81.23,247.05" fill="none" stroke="#ff4a98" stroke-width="0.7"/><polygon points="81.62,256.18 81.23,253.75 83.43,252.63 85.17,254.37 84.05,256.57" fill="none" stroke="#ff4a98" stroke-width="0.7"/><polygon points="93.18,244.62 93.57,247.05 91.37,248.17 89.63,246.43 90.75,244.23" fill="none" stroke="#ff4a98" stroke-width="0.7"/><polygon points="93.18,256.18 90.75,256.57 89.63,254.37 91.37,252.63 93.57,253.75" fill="none" stroke="#ff4a98" stroke-width="0.7"/><line x1="87.40" y1="243.80" x2="85.04" y2="245.06" stroke="#ff4a98" stroke-width="0.7"/><line x1="87.40" y1="243.80" x2="89.77" y2="245.06" stroke="#ff4a98" stroke-width="0.7"/><line x1="87.40" y1="257.00" x2="85.04" y2="255.74" stroke="#ff4a98" stroke-width="0.7"/><line x1="87.40" y1="257.00" x2="89.77" y2="255.74" stroke="#ff4a98" stroke-width="0.7"/><line x1="80.80" y1="250.40" x2="82.07" y2="248.03" stroke="#ff4a98" stroke-width="0.7"/><line x1="80.80" y1="250.40" x2="82.07" y2="252.77" stroke="#ff4a98" stroke-width="0.7"/><line x1="94.00" y1="250.40" x2="92.73" y2="248.03" stroke="#ff4a98" stroke-width="0.7"/><line x1="94.00" y1="250.40" x2="92.73" y2="252.77" stroke="#ff4a98" stroke-width="0.7"/><text x="85.80" y="249.80" font-size="1.9" font-weight="bold" fill="#ff4a98">NH</text><text x="85.40" y="253.00" font-size="1.9" font-weight="bold" fill="#ff4a98">HN</text><polygon points="89.31,240.30 87.40,241.40 85.49,240.30 85.49,238.10 87.40,237.00 89.31,238.10" fill="none" stroke="#4a5cf0" stroke-width="0.7"/><line x1="87.40" y1="243.80" x2="87.40" y2="241.40" stroke="#4a5cf0" stroke-width="0.7"/><line x1="87.40" y1="237.00" x2="87.40" y2="236.00" stroke="#4a5cf0" stroke-width="0.7"/><text x="87.40" y="235.60" font-size="2.6" font-weight="bold" fill="#4a5cf0" text-anchor="middle">NH<tspan font-size="1.8" dy="0.5">2</tspan></text><polygon points="89.31,262.80 87.40,263.90 85.49,262.80 85.49,260.60 87.40,259.50 89.31,260.60" fill="none" stroke="#4a5cf0" stroke-width="0.7"/><line x1="87.40" y1="257.00" x2="87.40" y2="259.50" stroke="#4a5cf0" stroke-width="0.7"/><line x1="87.40" y1="263.90" x2="87.40" y2="265.30" stroke="#4a5cf0" stroke-width="0.7"/><text x="87.40" y="267.50" font-size="2.6" font-weight="bold" fill="#4a5cf0" text-anchor="middle">NH<tspan font-size="1.8" dy="0.5">2</tspan></text><polygon points="78.00,250.40 76.90,252.31 74.70,252.31 73.60,250.40 74.70,248.49 76.90,248.49" fill="none" stroke="#4a5cf0" stroke-width="0.7"/><line x1="80.80" y1="250.40" x2="78.00" y2="250.40" stroke="#4a5cf0" stroke-width="0.7"/><line x1="73.60" y1="250.40" x2="73.30" y2="250.40" stroke="#4a5cf0" stroke-width="0.7"/><text x="70.90" y="251.30" font-size="2.6" font-weight="bold" fill="#4a5cf0" text-anchor="middle">H<tspan font-size="1.8" dy="0.5">2</tspan><tspan dy="-0.5">N</tspan></text><polygon points="100.50,250.40 99.40,252.31 97.20,252.31 96.10,250.40 97.20,248.49 99.40,248.49" fill="none" stroke="#4a5cf0" stroke-width="0.7"/><line x1="94.00" y1="250.40" x2="96.10" y2="250.40" stroke="#4a5cf0" stroke-width="0.7"/><line x1="100.50" y1="250.40" x2="101.00" y2="250.40" stroke="#4a5cf0" stroke-width="0.7"/><text x="103.40" y="251.30" font-size="2.6" font-weight="bold" fill="#4a5cf0" text-anchor="middle">NH<tspan font-size="1.8" dy="0.5">2</tspan></text><polygon points="268.82,245.42 271.25,245.03 272.37,247.23 270.63,248.97 268.43,247.85" fill="none" stroke="#ff4a98" stroke-width="0.7"/><polygon points="268.82,256.98 268.43,254.55 270.63,253.43 272.37,255.17 271.25,257.37" fill="none" stroke="#ff4a98" stroke-width="0.7"/><polygon points="280.38,245.42 280.77,247.85 278.57,248.97 276.83,247.23 277.95,245.03" fill="none" stroke="#ff4a98" stroke-width="0.7"/><polygon points="280.38,256.98 277.95,257.37 276.83,255.17 278.57,253.43 280.77,254.55" fill="none" stroke="#ff4a98" stroke-width="0.7"/><line x1="274.60" y1="244.60" x2="272.24" y2="245.86" stroke="#ff4a98" stroke-width="0.7"/><line x1="274.60" y1="244.60" x2="276.97" y2="245.86" stroke="#ff4a98" stroke-width="0.7"/><line x1="274.60" y1="257.80" x2="272.24" y2="256.54" stroke="#ff4a98" stroke-width="0.7"/><line x1="274.60" y1="257.80" x2="276.97" y2="256.54" stroke="#ff4a98" stroke-width="0.7"/><line x1="268.00" y1="251.20" x2="269.26" y2="248.83" stroke="#ff4a98" stroke-width="0.7"/><line x1="268.00" y1="251.20" x2="269.26" y2="253.56" stroke="#ff4a98" stroke-width="0.7"/><line x1="281.20" y1="251.20" x2="279.94" y2="248.83" stroke="#ff4a98" stroke-width="0.7"/><line x1="281.20" y1="251.20" x2="279.94" y2="253.56" stroke="#ff4a98" stroke-width="0.7"/><text x="273.00" y="250.60" font-size="1.9" font-weight="bold" fill="#ff4a98">NH</text><text x="272.60" y="253.80" font-size="1.9" font-weight="bold" fill="#ff4a98">HN</text><polygon points="276.51,242.00 274.60,243.10 272.69,242.00 272.69,239.80 274.60,238.70 276.51,239.80" fill="none" stroke="#4a5cf0" stroke-width="0.7"/><line x1="274.60" y1="244.60" x2="274.60" y2="243.10" stroke="#4a5cf0" stroke-width="0.7"/><line x1="274.60" y1="238.70" x2="274.60" y2="237.20" stroke="#4a5cf0" stroke-width="0.7"/><text x="274.60" y="236.80" font-size="2.6" font-weight="bold" fill="#4a5cf0" text-anchor="middle">NH<tspan font-size="1.8" dy="0.5">2</tspan></text><polygon points="276.51,263.50 274.60,264.60 272.69,263.50 272.69,261.30 274.60,260.20 276.51,261.30" fill="none" stroke="#4a5cf0" stroke-width="0.7"/><line x1="274.60" y1="257.80" x2="274.60" y2="260.20" stroke="#4a5cf0" stroke-width="0.7"/><line x1="274.60" y1="264.60" x2="274.60" y2="265.60" stroke="#4a5cf0" stroke-width="0.7"/><text x="274.60" y="267.80" font-size="2.6" font-weight="bold" fill="#4a5cf0" text-anchor="middle">NH<tspan font-size="1.8" dy="0.5">2</tspan></text><polygon points="265.10,251.20 264.00,253.11 261.80,253.11 260.70,251.20 261.80,249.29 264.00,249.29" fill="none" stroke="#4a5cf0" stroke-width="0.7"/><line x1="268.00" y1="251.20" x2="265.10" y2="251.20" stroke="#4a5cf0" stroke-width="0.7"/><line x1="260.70" y1="251.20" x2="259.80" y2="251.20" stroke="#4a5cf0" stroke-width="0.7"/><text x="257.40" y="252.10" font-size="2.6" font-weight="bold" fill="#4a5cf0" text-anchor="middle">H<tspan font-size="1.8" dy="0.5">2</tspan><tspan dy="-0.5">N</tspan></text><polygon points="287.00,251.20 285.90,253.11 283.70,253.11 282.60,251.20 283.70,249.29 285.90,249.29" fill="none" stroke="#4a5cf0" stroke-width="0.7"/><line x1="281.20" y1="251.20" x2="282.60" y2="251.20" stroke="#4a5cf0" stroke-width="0.7"/><line x1="287.00" y1="251.20" x2="288.80" y2="251.20" stroke="#4a5cf0" stroke-width="0.7"/><text x="291.20" y="252.10" font-size="2.6" font-weight="bold" fill="#4a5cf0" text-anchor="middle">NH<tspan font-size="1.8" dy="0.5">2</tspan></text><polygon points="88.00,210.20 91.20,212.40 90.20,216.00 85.80,216.00 84.80,212.40" fill="none" stroke="#2e8a58" stroke-width="0.85"/><polygon points="85.80,216.00 90.20,216.00 91.20,219.60 88.00,221.80 84.80,219.60" fill="none" stroke="#2e8a58" stroke-width="0.85"/><polyline points="88,210.2 88,205.8 91.8,203.6" fill="none" stroke="#2e8a58" stroke-width="0.85"/><polyline points="88,221.8 88,224.4 84.6,226.6" fill="none" stroke="#2e8a58" stroke-width="0.85"/><polygon points="276.64,217.10 273.00,219.20 269.36,217.10 269.36,212.90 273.00,210.80 276.64,212.90" fill="none" stroke="#f59a2a" stroke-width="0.9"/><polyline points="273.0,210.8 272.7,207.6 269.2,204.6" fill="none" stroke="#f59a2a" stroke-width="0.9"/><polyline points="273.0,219.2 273.7,221.9 276.8,223.9" fill="none" stroke="#f59a2a" stroke-width="0.9"/>
</svg></body></html>
